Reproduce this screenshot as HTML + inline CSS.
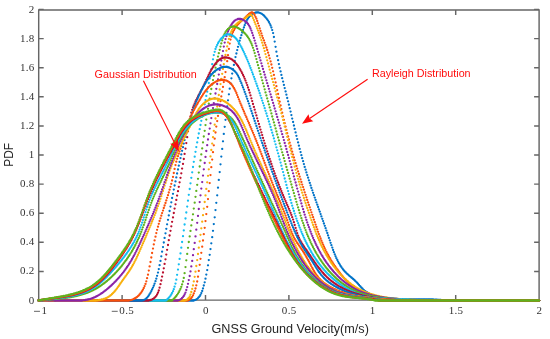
<!DOCTYPE html><html><head><meta charset="utf-8"><style>html,body{margin:0;padding:0;background:#fff;}body{width:550px;height:339px;overflow:hidden;position:relative;}svg{position:absolute;left:0;top:0;filter:blur(0.3px);}.t{font-family:"Liberation Serif",serif;font-size:11px;fill:#333;letter-spacing:0.3px;}.m{font-family:"DejaVu Serif",serif;font-size:9.5px;letter-spacing:0.6px;}.s{font-family:"Liberation Sans",Arial,sans-serif;fill:#262626;}.r{font-family:"Liberation Sans",Arial,sans-serif;fill:#ff0d0d;font-size:10.75px;}</style></head><body><svg width="550" height="339" viewBox="0 0 550 339"><path d="M38.7 10.0H539.1V300.1H38.7ZM38.7 300.5h5M539.1 300.5h-5M38.7 271.4h5M539.1 271.4h-5M38.7 242.3h5M539.1 242.3h-5M38.7 213.2h5M539.1 213.2h-5M38.7 184.1h5M539.1 184.1h-5M38.7 155.0h5M539.1 155.0h-5M38.7 125.9h5M539.1 125.9h-5M38.7 96.8h5M539.1 96.8h-5M38.7 67.7h5M539.1 67.7h-5M38.7 38.6h5M539.1 38.6h-5M38.7 9.5h5M539.1 9.5h-5M38.7 300.1v-5M38.7 10.0v5M122.1 300.1v-5M122.1 10.0v5M205.5 300.1v-5M205.5 10.0v5M288.9 300.1v-5M288.9 10.0v5M372.3 300.1v-5M372.3 10.0v5M455.7 300.1v-5M455.7 10.0v5M539.1 300.1v-5M539.1 10.0v5" fill="none" stroke="#666" stroke-width="1.45"/><g fill="none" stroke-linecap="round" stroke-width="2.30"><path stroke="#0073C8" d="M38.7 300.5H193.8M194.7 300.2h0M195.5 299.9h0M196.3 299.4h0M197.2 298.8h0M198.0 298.1h0M198.8 297.2h0M199.7 296.2h0M200.5 294.8h0M201.3 293.1h0M202.2 291.0h0M203.0 288.4h0M203.8 285.5h0M204.7 282.3h0M205.5 278.7h0M206.3 274.6h0M207.2 270.1h0M208.0 265.3h0M208.8 260.1h0M209.7 254.8h0M210.5 249.1h0M211.3 243.3h0M212.2 237.2h0M213.0 230.8h0M213.8 224.1h0M214.7 217.3h0M215.5 210.1h0M216.3 202.8h0M217.2 195.3h0M218.0 187.7h0M218.8 179.9h0M219.7 172.1h0M220.5 164.3h0M221.3 156.6h0M222.2 148.9h0M223.0 141.3h0M223.8 133.9h0M224.7 126.8h0M225.5 119.8h0M226.4 113.0h0M227.2 106.5h0M228.0 100.3h0M228.9 94.3h0M229.7 88.7h0M230.5 83.4h0M231.4 78.3h0M232.2 73.6h0M233.0 69.1h0M233.9 64.9h0M234.7 60.9h0M235.5 57.1h0M236.4 53.5h0M237.2 50.1h0M238.0 46.8h0M238.9 43.7h0M239.7 40.7h0M240.5 37.9h0M241.4 35.2h0M242.2 32.5h0M243.0 30.0h0M243.9 27.5h0M244.7 25.2h0M245.5 23.1h0M246.4 21.3h0M247.2 19.7h0M248.0 18.4h0M248.9 17.2h0M249.7 16.2h0M250.5 15.4h0M251.4 14.7h0M252.2 14.1h0M253.0 13.6h0M253.9 13.2h0M254.7 12.9h0M255.5 12.7h0M256.4 12.5h0M257.2 12.4h0M258.0 12.5h0M258.9 12.6h0M259.7 12.8h0M260.5 13.2h0M261.4 13.6h0M262.2 14.1h0M263.0 14.8h0M263.9 15.5h0M264.7 16.4h0M265.5 17.3h0M266.4 18.3h0M267.2 19.4h0M268.1 20.6h0M268.9 22.0h0M269.7 23.6h0M270.6 25.4h0M271.4 27.5h0M272.2 30.1h0M273.1 33.1h0M273.9 37.0h0M274.7 41.6h0M275.6 46.8h0M276.4 51.7h0M277.2 56.1h0M278.1 60.2h0M278.9 64.1h0M279.7 67.8h0M280.6 71.4h0M281.4 74.9h0M282.2 78.2h0M283.1 81.6h0M283.9 84.9h0M284.7 88.1h0M285.6 91.4h0M286.4 94.7h0M287.2 98.0h0M288.1 101.3h0M288.9 104.7h0M289.7 108.2h0M290.6 111.6h0M291.4 115.1h0M292.2 118.6h0M293.1 122.0h0M293.9 125.5h0M294.7 128.9h0M295.6 132.4h0M296.4 135.8h0M297.2 139.1h0M298.1 142.4h0M298.9 145.7h0M299.7 148.9h0M300.6 152.1h0M301.4 155.2h0M302.2 158.2h0M303.1 161.2h0M303.9 164.1h0M304.7 166.9h0M305.6 169.7h0M306.4 172.4h0M307.2 175.1h0M308.1 177.7h0M308.9 180.3h0M309.8 182.9h0M310.6 185.4h0M311.4 187.9h0M312.3 190.3h0M313.1 192.8h0M313.9 195.2h0M314.8 197.6h0M315.6 199.9h0M316.4 202.3h0M317.3 204.7h0M318.1 207.0h0M318.9 209.4h0M319.8 211.7h0M320.6 214.1h0M321.4 216.4h0M322.3 218.8h0M323.1 221.1h0M323.9 223.5h0M324.8 225.8h0M325.6 228.2h0M326.4 230.6h0M327.3 233.0h0M328.1 235.4h0M328.9 237.9h0M329.8 240.3h0M330.6 242.8h0M331.4 245.2h0M332.3 247.6h0M333.1 250.0h0M333.9 252.2h0M334.8 254.3h0M335.6 256.3h0M336.4 258.2h0M337.3 259.9h0M338.1 261.6h0M338.9 263.1h0M339.8 264.5h0M340.6 265.9h0M341.4 267.1h0M342.3 268.3h0M343.1 269.4h0M343.9 270.4h0M344.8 271.4h0M345.6 272.2h0M346.4 273.1h0M347.3 273.9h0M348.1 274.6h0M348.9 275.4h0M349.8 276.1h0M350.6 276.8h0M351.4 277.5h0M352.3 278.2h0M353.1 279.0h0M354.0 279.7h0M354.8 280.5h0M355.6 281.3h0M356.5 282.1h0M357.3 283.0h0M358.1 283.9h0M359.0 284.9h0M359.8 285.8h0M360.6 286.7h0M361.5 287.7h0M362.3 288.5h0M363.1 289.3h0M364.0 290.1h0M364.8 290.8h0M365.6 291.4h0M366.5 292.0h0M367.3 292.5h0M368.1 293.0h0M369.0 293.5h0M369.8 293.9h0M370.6 294.2h0M371.5 294.6h0M372.3 294.9h0M373.1 295.2h0M374.0 295.5h0M374.8 295.7h0M375.6 296.0h0M376.5 296.2h0M377.3 296.4h0M378.1 296.6h0M379.0 296.8h0M379.8 297.0h0M380.6 297.1h0M381.5 297.3h0M382.3 297.4h0M383.1 297.6h0M384.0 297.7h0M384.8 297.8h0M385.6 298.0h0M386.5 298.1h0M387.3 298.2h0M388.1 298.3h0M389.0 298.4h0M389.8 298.5h0M390.6 298.5h0M391.5 298.6h0M392.3 298.7h0M393.1 298.8h0M394.0 298.8h0M394.8 298.9h0M395.7 298.9h0M396.5 299.0h0M397.3 299.0h0M398.2 299.1h0M399.0 299.1h0M399.8 299.1h0M400.7 299.2h0M401.5 299.2h0M402.3 299.2h0M403.2 299.2h0M404.0 299.2h0M404.8 299.3h0M405.7 299.3h0M406.5 299.3h0M407.3 299.3h0M408.2 299.3h0M409.0 299.3h0M409.8 299.3h0M410.7 299.3h0M411.5 299.3h0M412.3 299.3h0M413.2 299.3h0M414.0 299.3h0M414.8 299.3h0M415.7 299.3h0M416.5 299.3h0M417.3 299.3h0M418.2 299.3h0M419.0 299.3h0M419.8 299.3h0M420.7 299.3h0M421.5 299.3h0M422.3 299.3h0M423.2 299.3h0M424.0 299.3h0M424.8 299.3h0M425.7 299.3h0M426.5 299.4h0M427.3 299.4h0M428.2 299.4h0M429.0 299.4h0M429.8 299.4h0M430.7 299.4h0M431.5 299.5h0M432.3 299.5h0M433.2 299.5h0M434.0 299.6h0M434.8 299.6h0M435.7 299.7h0M436.5 299.7h0M437.4 299.8h0M438.2 299.8h0M439.0 299.9h0M439.9 300.0h0M440.7 300.0h0M441.5 300.1h0M442.4 300.2h0M443.2 300.3h0M444.0 300.5H539.1"/><path stroke="#FA500C" d="M38.7 300.5H188.0M188.8 300.1h0M189.7 299.5h0M190.5 298.8h0M191.3 298.0h0M192.2 296.8h0M193.0 295.3h0M193.8 293.4h0M194.7 291.1h0M195.5 288.5h0M196.3 285.3h0M197.2 281.5h0M198.0 276.7h0M198.8 270.9h0M199.7 264.8h0M200.5 258.8h0M201.3 252.8h0M202.2 246.7h0M203.0 240.5h0M203.8 234.2h0M204.7 227.8h0M205.5 221.1h0M206.3 214.1h0M207.2 206.8h0M208.0 199.1h0M208.8 191.2h0M209.7 183.1h0M210.5 175.1h0M211.3 167.2h0M212.2 159.6h0M213.0 152.2h0M213.8 145.3h0M214.7 138.7h0M215.5 132.5h0M216.3 126.6h0M217.2 121.1h0M218.0 115.9h0M218.8 110.9h0M219.7 106.0h0M220.5 101.2h0M221.3 96.4h0M222.2 91.7h0M223.0 86.9h0M223.8 82.1h0M224.7 77.2h0M225.5 72.1h0M226.4 66.8h0M227.2 61.2h0M228.0 55.2h0M228.9 48.9h0M229.7 43.6h0M230.5 39.6h0M231.4 36.5h0M232.2 34.1h0M233.0 32.0h0M233.9 30.3h0M234.7 28.8h0M235.5 27.5h0M236.4 26.3h0M237.2 25.3h0M238.0 24.3h0M238.9 23.4h0M239.7 22.6h0M240.5 21.8h0M241.4 21.1h0M242.2 20.3h0M243.0 19.6h0M243.9 18.9h0M244.7 18.1h0M245.5 17.3h0M246.4 16.5h0M247.2 15.6h0M248.0 14.8h0M248.9 14.0h0M249.7 13.3h0M250.5 12.8h0M251.4 12.5h0M252.2 12.5h0M253.0 12.8h0M253.9 13.6h0M254.7 15.1h0M255.5 16.8h0M256.4 18.7h0M257.2 20.9h0M258.0 23.3h0M258.9 25.8h0M259.7 28.4h0M260.5 31.0h0M261.4 33.4h0M262.2 35.8h0M263.0 38.1h0M263.9 40.4h0M264.7 42.8h0M265.5 45.1h0M266.4 47.5h0M267.2 50.0h0M268.1 52.7h0M268.9 55.4h0M269.7 58.3h0M270.6 61.4h0M271.4 64.5h0M272.2 67.8h0M273.1 71.3h0M273.9 74.9h0M274.7 78.6h0M275.6 82.4h0M276.4 86.2h0M277.2 90.1h0M278.1 94.0h0M278.9 97.9h0M279.7 101.7h0M280.6 105.4h0M281.4 109.1h0M282.2 112.7h0M283.1 116.3h0M283.9 119.8h0M284.7 123.2h0M285.6 126.6h0M286.4 129.9h0M287.2 133.2h0M288.1 136.4h0M288.9 139.5h0M289.7 142.7h0M290.6 145.7h0M291.4 148.7h0M292.2 151.7h0M293.1 154.6h0M293.9 157.5h0M294.7 160.3h0M295.6 163.1h0M296.4 165.9h0M297.2 168.6h0M298.1 171.3h0M298.9 174.0h0M299.7 176.7h0M300.6 179.3h0M301.4 182.0h0M302.2 184.6h0M303.1 187.1h0M303.9 189.7h0M304.7 192.3h0M305.6 194.8h0M306.4 197.3h0M307.2 199.9h0M308.1 202.4h0M308.9 204.9h0M309.8 207.3h0M310.6 209.8h0M311.4 212.3h0M312.3 214.8h0M313.1 217.2h0M313.9 219.7h0M314.8 222.2h0M315.6 224.6h0M316.4 227.0h0M317.3 229.4h0M318.1 231.8h0M318.9 234.1h0M319.8 236.3h0M320.6 238.5h0M321.4 240.6h0M322.3 242.6h0M323.1 244.6h0M323.9 246.5h0M324.8 248.3h0M325.6 250.1h0M326.4 251.8h0M327.3 253.4h0M328.1 255.0h0M328.9 256.5h0M329.8 258.0h0M330.6 259.4h0M331.4 260.8h0M332.3 262.1h0M333.1 263.4h0M333.9 264.6h0M334.8 265.9h0M335.6 267.1h0M336.4 268.3h0M337.3 269.4h0M338.1 270.5h0M338.9 271.7h0M339.8 272.7h0M340.6 273.8h0M341.4 274.9h0M342.3 275.9h0M343.1 276.9h0M343.9 277.8h0M344.8 278.8h0M345.6 279.7h0M346.4 280.6h0M347.3 281.5h0M348.1 282.3h0M348.9 283.1h0M349.8 283.9h0M350.6 284.7h0M351.4 285.5h0M352.3 286.2h0M353.1 286.9h0M354.0 287.6h0M354.8 288.2h0M355.6 288.9h0M356.5 289.5h0M357.3 290.1h0M358.1 290.6h0M359.0 291.2h0M359.8 291.7h0M360.6 292.2h0M361.5 292.7h0M362.3 293.1h0M363.1 293.5h0M364.0 294.0h0M364.8 294.3h0M365.6 294.7h0M366.5 295.0h0M367.3 295.4h0M368.1 295.7h0M369.0 296.0h0M369.8 296.2h0M370.6 296.5h0M371.5 296.7h0M372.3 296.9h0M373.1 297.1h0M374.0 297.3h0M374.8 297.5h0M375.6 297.7h0M376.5 297.8h0M377.3 298.0h0M378.1 298.1h0M379.0 298.2h0M379.8 298.3h0M380.6 298.4h0M381.5 298.5h0M382.3 298.6h0M383.1 298.7h0M384.0 298.8h0M384.8 298.9h0M385.6 298.9h0M386.5 299.0h0M387.3 299.0h0M388.1 299.1h0M389.0 299.1h0M389.8 299.1h0M390.6 299.2h0M391.5 299.2h0M392.3 299.2h0M393.1 299.2h0M394.0 299.3h0M394.8 299.3h0M395.7 299.3h0M396.5 299.3h0M397.3 299.3h0M398.2 299.3h0M399.0 299.3h0M399.8 299.4h0M400.7 299.4h0M401.5 299.4h0M402.3 299.4h0M403.2 299.4h0M404.0 299.4h0M404.8 299.4h0M405.7 299.5h0M406.5 299.5h0M407.3 299.5h0M408.2 299.5h0M409.0 299.6h0M409.8 299.6h0M410.7 299.6h0M411.5 299.7h0M412.3 299.7h0M413.2 299.8h0M414.0 299.8h0M414.8 299.9h0M415.7 300.0h0M416.5 300.1h0M417.3 300.1h0M418.2 300.2h0M419.0 300.5H539.1"/><path stroke="#F9B00C" d="M38.7 300.5H184.6M185.5 300.3h0M186.3 299.9h0M187.2 299.4h0M188.0 298.7h0M188.8 297.8h0M189.7 296.5h0M190.5 294.6h0M191.3 292.0h0M192.2 288.9h0M193.0 285.4h0M193.8 281.4h0M194.7 276.8h0M195.5 271.7h0M196.3 266.0h0M197.2 260.1h0M198.0 254.0h0M198.8 247.7h0M199.7 241.3h0M200.5 234.8h0M201.3 228.3h0M202.2 221.7h0M203.0 215.2h0M203.8 208.6h0M204.7 202.0h0M205.5 195.4h0M206.3 188.9h0M207.2 182.3h0M208.0 175.8h0M208.8 169.3h0M209.7 162.8h0M210.5 156.4h0M211.3 150.0h0M212.2 143.6h0M213.0 137.2h0M213.8 130.9h0M214.7 124.7h0M215.5 118.5h0M216.3 112.4h0M217.2 106.5h0M218.0 100.7h0M218.8 95.0h0M219.7 89.5h0M220.5 84.1h0M221.3 78.9h0M222.2 73.8h0M223.0 68.9h0M223.8 64.2h0M224.7 59.5h0M225.5 55.0h0M226.4 50.7h0M227.2 46.4h0M228.0 42.4h0M228.9 38.9h0M229.7 35.9h0M230.5 33.5h0M231.4 31.5h0M232.2 29.8h0M233.0 28.3h0M233.9 27.1h0M234.7 25.9h0M235.5 25.0h0M236.4 24.1h0M237.2 23.4h0M238.0 22.7h0M238.9 22.1h0M239.7 21.5h0M240.5 21.0h0M241.4 20.6h0M242.2 20.2h0M243.0 19.7h0M243.9 19.2h0M244.7 18.7h0M245.5 18.0h0M246.4 17.3h0M247.2 16.5h0M248.0 15.8h0M248.9 15.3h0M249.7 14.9h0M250.5 14.8h0M251.4 15.1h0M252.2 16.2h0M253.0 18.1h0M253.9 20.1h0M254.7 22.2h0M255.5 24.2h0M256.4 26.3h0M257.2 28.4h0M258.0 30.6h0M258.9 32.9h0M259.7 35.2h0M260.5 37.6h0M261.4 40.1h0M262.2 42.7h0M263.0 45.4h0M263.9 48.2h0M264.7 51.1h0M265.5 54.1h0M266.4 57.2h0M267.2 60.3h0M268.1 63.4h0M268.9 66.6h0M269.7 69.7h0M270.6 72.8h0M271.4 75.9h0M272.2 79.0h0M273.1 82.1h0M273.9 85.1h0M274.7 88.2h0M275.6 91.3h0M276.4 94.4h0M277.2 97.4h0M278.1 100.6h0M278.9 103.7h0M279.7 106.9h0M280.6 110.1h0M281.4 113.3h0M282.2 116.6h0M283.1 119.9h0M283.9 123.2h0M284.7 126.6h0M285.6 130.0h0M286.4 133.4h0M287.2 136.8h0M288.1 140.2h0M288.9 143.6h0M289.7 147.0h0M290.6 150.4h0M291.4 153.7h0M292.2 157.0h0M293.1 160.3h0M293.9 163.5h0M294.7 166.7h0M295.6 169.8h0M296.4 172.8h0M297.2 175.8h0M298.1 178.8h0M298.9 181.7h0M299.7 184.5h0M300.6 187.3h0M301.4 190.0h0M302.2 192.7h0M303.1 195.3h0M303.9 197.9h0M304.7 200.5h0M305.6 203.0h0M306.4 205.5h0M307.2 208.0h0M308.1 210.4h0M308.9 212.9h0M309.8 215.3h0M310.6 217.7h0M311.4 220.1h0M312.3 222.5h0M313.1 224.9h0M313.9 227.2h0M314.8 229.5h0M315.6 231.7h0M316.4 233.9h0M317.3 236.0h0M318.1 238.0h0M318.9 240.0h0M319.8 241.9h0M320.6 243.7h0M321.4 245.5h0M322.3 247.2h0M323.1 248.9h0M323.9 250.5h0M324.8 252.1h0M325.6 253.6h0M326.4 255.0h0M327.3 256.5h0M328.1 257.8h0M328.9 259.2h0M329.8 260.5h0M330.6 261.8h0M331.4 263.0h0M332.3 264.2h0M333.1 265.4h0M333.9 266.5h0M334.8 267.6h0M335.6 268.7h0M336.4 269.7h0M337.3 270.8h0M338.1 271.8h0M338.9 272.7h0M339.8 273.7h0M340.6 274.6h0M341.4 275.4h0M342.3 276.3h0M343.1 277.1h0M343.9 278.0h0M344.8 278.7h0M345.6 279.5h0M346.4 280.3h0M347.3 281.0h0M348.1 281.7h0M348.9 282.4h0M349.8 283.0h0M350.6 283.7h0M351.4 284.3h0M352.3 284.9h0M353.1 285.5h0M354.0 286.0h0M354.8 286.6h0M355.6 287.1h0M356.5 287.6h0M357.3 288.1h0M358.1 288.6h0M359.0 289.1h0M359.8 289.5h0M360.6 289.9h0M361.5 290.3h0M362.3 290.7h0M363.1 291.1h0M364.0 291.5h0M364.8 291.8h0M365.6 292.2h0M366.5 292.5h0M367.3 292.8h0M368.1 293.1h0M369.0 293.4h0M369.8 293.7h0M370.6 294.0h0M371.5 294.2h0M372.3 294.5h0M373.1 294.7h0M374.0 295.0h0M374.8 295.2h0M375.6 295.4h0M376.5 295.6h0M377.3 295.8h0M378.1 296.0h0M379.0 296.2h0M379.8 296.4h0M380.6 296.6h0M381.5 296.7h0M382.3 296.9h0M383.1 297.1h0M384.0 297.2h0M384.8 297.3h0M385.6 297.5h0M386.5 297.6h0M387.3 297.7h0M388.1 297.9h0M389.0 298.0h0M389.8 298.1h0M390.6 298.2h0M391.5 298.3h0M392.3 298.4h0M393.1 298.5h0M394.0 298.6h0M394.8 298.7h0M395.7 298.8h0M396.5 298.9h0M397.3 299.0h0M398.2 299.0h0M399.0 299.1h0M399.8 299.2h0M400.7 299.3h0M401.5 299.3h0M402.3 299.4h0M403.2 299.5h0M404.0 299.5h0M404.8 299.6h0M405.7 299.6h0M406.5 299.7h0M407.3 299.7h0M408.2 299.8h0M409.0 299.8h0M409.8 299.9h0M410.7 299.9h0M411.5 300.0h0M412.3 300.0h0M413.2 300.1h0M414.0 300.1h0M414.8 300.2h0M415.7 300.2h0M416.5 300.3h0M417.3 300.3h0M418.2 300.5H539.1"/><path stroke="#8A24A8" d="M38.7 300.5H178.0M178.8 300.2h0M179.6 299.8h0M180.5 299.4h0M181.3 298.8h0M182.1 298.0h0M183.0 297.1h0M183.8 296.0h0M184.6 294.5h0M185.5 292.6h0M186.3 290.0h0M187.2 287.1h0M188.0 283.8h0M188.8 280.1h0M189.7 276.0h0M190.5 271.4h0M191.3 266.4h0M192.2 260.9h0M193.0 255.2h0M193.8 249.2h0M194.7 242.9h0M195.5 236.4h0M196.3 229.7h0M197.2 222.8h0M198.0 215.9h0M198.8 209.0h0M199.7 202.1h0M200.5 195.3h0M201.3 188.6h0M202.2 182.1h0M203.0 175.6h0M203.8 169.3h0M204.7 163.0h0M205.5 156.9h0M206.3 151.0h0M207.2 145.2h0M208.0 139.5h0M208.8 134.0h0M209.7 128.6h0M210.5 123.3h0M211.3 118.1h0M212.2 113.1h0M213.0 108.1h0M213.8 103.2h0M214.7 98.3h0M215.5 93.5h0M216.3 88.8h0M217.2 84.0h0M218.0 79.3h0M218.8 74.6h0M219.7 69.9h0M220.5 65.3h0M221.3 60.6h0M222.2 55.9h0M223.0 51.1h0M223.8 46.6h0M224.7 42.6h0M225.5 39.1h0M226.4 36.2h0M227.2 33.7h0M228.0 31.5h0M228.9 29.5h0M229.7 27.7h0M230.5 26.1h0M231.4 24.7h0M232.2 23.5h0M233.0 22.4h0M233.9 21.5h0M234.7 20.7h0M235.5 20.1h0M236.4 19.6h0M237.2 19.3h0M238.0 19.0h0M238.9 18.9h0M239.7 18.9h0M240.5 19.0h0M241.4 19.2h0M242.2 19.5h0M243.0 19.8h0M243.9 20.3h0M244.7 20.8h0M245.5 21.4h0M246.4 22.1h0M247.2 23.0h0M248.0 24.0h0M248.9 25.3h0M249.7 26.7h0M250.5 28.5h0M251.4 30.6h0M252.2 32.9h0M253.0 35.4h0M253.9 37.9h0M254.7 40.6h0M255.5 43.3h0M256.4 46.0h0M257.2 48.9h0M258.0 51.8h0M258.9 54.7h0M259.7 57.6h0M260.5 60.4h0M261.4 63.3h0M262.2 66.2h0M263.0 69.0h0M263.9 71.9h0M264.7 74.7h0M265.5 77.5h0M266.4 80.3h0M267.2 83.2h0M268.1 86.0h0M268.9 88.8h0M269.7 91.6h0M270.6 94.4h0M271.4 97.2h0M272.2 100.0h0M273.1 102.9h0M273.9 105.7h0M274.7 108.5h0M275.6 111.3h0M276.4 114.2h0M277.2 117.0h0M278.1 119.8h0M278.9 122.7h0M279.7 125.6h0M280.6 128.4h0M281.4 131.3h0M282.2 134.2h0M283.1 137.1h0M283.9 140.1h0M284.7 143.0h0M285.6 146.0h0M286.4 149.0h0M287.2 152.0h0M288.1 155.0h0M288.9 158.0h0M289.7 161.1h0M290.6 164.1h0M291.4 167.2h0M292.2 170.3h0M293.1 173.3h0M293.9 176.4h0M294.7 179.5h0M295.6 182.5h0M296.4 185.5h0M297.2 188.6h0M298.1 191.6h0M298.9 194.6h0M299.7 197.6h0M300.6 200.5h0M301.4 203.4h0M302.2 206.3h0M303.1 209.2h0M303.9 212.0h0M304.7 214.7h0M305.6 217.3h0M306.4 219.9h0M307.2 222.4h0M308.1 224.9h0M308.9 227.2h0M309.8 229.5h0M310.6 231.7h0M311.4 233.8h0M312.3 235.9h0M313.1 237.9h0M313.9 239.8h0M314.8 241.7h0M315.6 243.5h0M316.4 245.2h0M317.3 246.9h0M318.1 248.5h0M318.9 250.1h0M319.8 251.7h0M320.6 253.1h0M321.4 254.6h0M322.3 256.0h0M323.1 257.3h0M323.9 258.7h0M324.8 259.9h0M325.6 261.2h0M326.4 262.4h0M327.3 263.6h0M328.1 264.7h0M328.9 265.8h0M329.8 266.9h0M330.6 268.0h0M331.4 269.0h0M332.3 270.0h0M333.1 271.0h0M333.9 271.9h0M334.8 272.8h0M335.6 273.7h0M336.4 274.6h0M337.3 275.5h0M338.1 276.3h0M338.9 277.1h0M339.8 277.9h0M340.6 278.7h0M341.4 279.4h0M342.3 280.1h0M343.1 280.8h0M343.9 281.5h0M344.8 282.2h0M345.6 282.8h0M346.4 283.5h0M347.3 284.1h0M348.1 284.7h0M348.9 285.2h0M349.8 285.8h0M350.6 286.3h0M351.4 286.8h0M352.3 287.4h0M353.1 287.8h0M354.0 288.3h0M354.8 288.8h0M355.6 289.2h0M356.5 289.7h0M357.3 290.1h0M358.1 290.5h0M359.0 290.8h0M359.8 291.2h0M360.6 291.6h0M361.5 291.9h0M362.3 292.2h0M363.1 292.6h0M364.0 292.9h0M364.8 293.2h0M365.6 293.5h0M366.5 293.7h0M367.3 294.0h0M368.1 294.2h0M369.0 294.5h0M369.8 294.7h0M370.6 295.0h0M371.5 295.2h0M372.3 295.4h0M373.1 295.6h0M374.0 295.8h0M374.8 296.0h0M375.6 296.2h0M376.5 296.3h0M377.3 296.5h0M378.1 296.7h0M379.0 296.8h0M379.8 297.0h0M380.6 297.1h0M381.5 297.3h0M382.3 297.4h0M383.1 297.5h0M384.0 297.7h0M384.8 297.8h0M385.6 297.9h0M386.5 298.0h0M387.3 298.1h0M388.1 298.2h0M389.0 298.3h0M389.8 298.4h0M390.6 298.5h0M391.5 298.6h0M392.3 298.7h0M393.1 298.7h0M394.0 298.8h0M394.8 298.9h0M395.7 299.0h0M396.5 299.0h0M397.3 299.1h0M398.2 299.2h0M399.0 299.2h0M399.8 299.3h0M400.7 299.3h0M401.5 299.4h0M402.3 299.5h0M403.2 299.5h0M404.0 299.6h0M404.8 299.6h0M405.7 299.7h0M406.5 299.7h0M407.3 299.8h0M408.2 299.8h0M409.0 299.9h0M409.8 299.9h0M410.7 299.9h0M411.5 300.0h0M412.3 300.0h0M413.2 300.1h0M414.0 300.1h0M414.8 300.2h0M415.7 300.2h0M416.5 300.3h0M417.3 300.3h0M418.2 300.5H539.1"/><path stroke="#5EB21E" d="M38.7 300.5H172.1M173.0 299.6h0M173.8 298.8h0M174.6 297.9h0M175.5 297.0h0M176.3 296.0h0M177.1 294.8h0M178.0 293.6h0M178.8 292.2h0M179.6 290.6h0M180.5 288.8h0M181.3 286.8h0M182.1 284.4h0M183.0 281.5h0M183.8 277.9h0M184.6 273.2h0M185.5 267.1h0M186.3 260.3h0M187.2 253.9h0M188.0 247.8h0M188.8 242.0h0M189.7 236.4h0M190.5 230.9h0M191.3 225.4h0M192.2 219.9h0M193.0 214.3h0M193.8 208.6h0M194.7 202.7h0M195.5 196.8h0M196.3 190.9h0M197.2 184.8h0M198.0 178.8h0M198.8 172.6h0M199.7 166.5h0M200.5 160.4h0M201.3 154.4h0M202.2 148.4h0M203.0 142.4h0M203.8 136.5h0M204.7 130.8h0M205.5 125.1h0M206.3 119.6h0M207.2 114.1h0M208.0 108.8h0M208.8 103.7h0M209.7 98.6h0M210.5 93.8h0M211.3 89.0h0M212.2 84.5h0M213.0 80.1h0M213.8 75.8h0M214.7 71.7h0M215.5 67.7h0M216.3 63.9h0M217.2 60.2h0M218.0 56.6h0M218.8 53.2h0M219.7 49.8h0M220.5 46.6h0M221.3 43.4h0M222.2 40.4h0M223.0 37.7h0M223.8 35.4h0M224.7 33.6h0M225.5 32.1h0M226.4 30.8h0M227.2 29.8h0M228.0 29.0h0M228.9 28.3h0M229.7 27.7h0M230.5 27.2h0M231.4 26.9h0M232.2 26.6h0M233.0 26.5h0M233.9 26.5h0M234.7 26.6h0M235.5 26.9h0M236.4 27.2h0M237.2 27.6h0M238.0 28.0h0M238.9 28.5h0M239.7 29.0h0M240.5 29.6h0M241.4 30.2h0M242.2 30.9h0M243.0 31.6h0M243.9 32.4h0M244.7 33.2h0M245.5 34.1h0M246.4 35.1h0M247.2 36.2h0M248.0 37.3h0M248.9 38.6h0M249.7 40.1h0M250.5 41.7h0M251.4 43.5h0M252.2 45.5h0M253.0 47.8h0M253.9 50.4h0M254.7 53.1h0M255.5 56.1h0M256.4 59.1h0M257.2 62.2h0M258.0 65.2h0M258.9 68.2h0M259.7 71.2h0M260.5 74.2h0M261.4 77.3h0M262.2 80.3h0M263.0 83.3h0M263.9 86.3h0M264.7 89.3h0M265.5 92.4h0M266.4 95.4h0M267.2 98.4h0M268.1 101.4h0M268.9 104.4h0M269.7 107.4h0M270.6 110.4h0M271.4 113.4h0M272.2 116.5h0M273.1 119.5h0M273.9 122.4h0M274.7 125.4h0M275.6 128.4h0M276.4 131.4h0M277.2 134.4h0M278.1 137.4h0M278.9 140.4h0M279.7 143.4h0M280.6 146.3h0M281.4 149.3h0M282.2 152.3h0M283.1 155.2h0M283.9 158.2h0M284.7 161.1h0M285.6 164.1h0M286.4 167.0h0M287.2 170.0h0M288.1 172.9h0M288.9 175.8h0M289.7 178.7h0M290.6 181.6h0M291.4 184.5h0M292.2 187.4h0M293.1 190.3h0M293.9 193.2h0M294.7 196.1h0M295.6 198.9h0M296.4 201.8h0M297.2 204.6h0M298.1 207.4h0M298.9 210.2h0M299.7 212.9h0M300.6 215.6h0M301.4 218.2h0M302.2 220.7h0M303.1 223.1h0M303.9 225.5h0M304.7 227.8h0M305.6 230.1h0M306.4 232.3h0M307.2 234.4h0M308.1 236.4h0M308.9 238.3h0M309.8 240.2h0M310.6 242.1h0M311.4 243.8h0M312.3 245.6h0M313.1 247.2h0M313.9 248.8h0M314.8 250.4h0M315.6 251.9h0M316.4 253.3h0M317.3 254.8h0M318.1 256.1h0M318.9 257.5h0M319.8 258.8h0M320.6 260.0h0M321.4 261.2h0M322.3 262.4h0M323.1 263.6h0M323.9 264.7h0M324.8 265.8h0M325.6 266.9h0M326.4 267.9h0M327.3 268.9h0M328.1 269.9h0M328.9 270.9h0M329.8 271.8h0M330.6 272.7h0M331.4 273.6h0M332.3 274.5h0M333.1 275.3h0M333.9 276.1h0M334.8 276.9h0M335.6 277.7h0M336.4 278.5h0M337.3 279.2h0M338.1 279.9h0M338.9 280.6h0M339.8 281.3h0M340.6 282.0h0M341.4 282.6h0M342.3 283.3h0M343.1 283.9h0M343.9 284.5h0M344.8 285.0h0M345.6 285.6h0M346.4 286.1h0M347.3 286.7h0M348.1 287.2h0M348.9 287.7h0M349.8 288.2h0M350.6 288.6h0M351.4 289.1h0M352.3 289.5h0M353.1 289.9h0M354.0 290.3h0M354.8 290.7h0M355.6 291.1h0M356.5 291.4h0M357.3 291.8h0M358.1 292.1h0M359.0 292.5h0M359.8 292.8h0M360.6 293.1h0M361.5 293.4h0M362.3 293.6h0M363.1 293.9h0M364.0 294.2h0M364.8 294.4h0M365.6 294.7h0M366.5 294.9h0M367.3 295.1h0M368.1 295.3h0M369.0 295.5h0M369.8 295.7h0M370.6 295.9h0M371.5 296.1h0M372.3 296.3h0M373.1 296.5h0M374.0 296.6h0M374.8 296.8h0M375.6 296.9h0M376.5 297.1h0M377.3 297.2h0M378.1 297.4h0M379.0 297.5h0M379.8 297.6h0M380.6 297.7h0M381.5 297.8h0M382.3 297.9h0M383.1 298.1h0M384.0 298.2h0M384.8 298.3h0M385.6 298.3h0M386.5 298.4h0M387.3 298.5h0M388.1 298.6h0M389.0 298.7h0M389.8 298.8h0M390.6 298.8h0M391.5 298.9h0M392.3 299.0h0M393.1 299.0h0M394.0 299.1h0M394.8 299.1h0M395.7 299.2h0M396.5 299.3h0M397.3 299.3h0M398.2 299.4h0M399.0 299.4h0M399.8 299.5h0M400.7 299.5h0M401.5 299.5h0M402.3 299.6h0M403.2 299.6h0M404.0 299.7h0M404.8 299.7h0M405.7 299.8h0M406.5 299.8h0M407.3 299.8h0M408.2 299.9h0M409.0 299.9h0M409.8 300.0h0M410.7 300.0h0M411.5 300.0h0M412.3 300.1h0M413.2 300.1h0M414.0 300.2h0M414.8 300.2h0M415.7 300.2h0M416.5 300.3h0M417.3 300.3h0M418.2 300.5H539.1"/><path stroke="#14BEF2" d="M38.7 300.5H165.5M166.3 300.3h0M167.1 299.5h0M168.0 298.7h0M168.8 297.8h0M169.6 296.8h0M170.5 295.7h0M171.3 294.4h0M172.1 292.9h0M173.0 291.2h0M173.8 289.2h0M174.6 286.7h0M175.5 283.6h0M176.3 279.7h0M177.1 274.8h0M178.0 269.6h0M178.8 264.3h0M179.6 258.9h0M180.5 253.4h0M181.3 247.7h0M182.1 242.0h0M183.0 236.2h0M183.8 230.4h0M184.6 224.5h0M185.5 218.5h0M186.3 212.5h0M187.2 206.6h0M188.0 200.7h0M188.8 194.8h0M189.7 189.0h0M190.5 183.3h0M191.3 177.8h0M192.2 172.3h0M193.0 167.0h0M193.8 161.8h0M194.7 156.7h0M195.5 151.8h0M196.3 147.1h0M197.2 142.4h0M198.0 137.9h0M198.8 133.5h0M199.7 129.2h0M200.5 125.0h0M201.3 120.8h0M202.2 116.7h0M203.0 112.5h0M203.8 108.4h0M204.7 104.3h0M205.5 100.1h0M206.3 95.9h0M207.2 91.7h0M208.0 87.4h0M208.8 83.0h0M209.7 78.5h0M210.5 73.9h0M211.3 69.1h0M212.2 64.2h0M213.0 59.3h0M213.8 55.1h0M214.7 51.8h0M215.5 49.0h0M216.3 46.8h0M217.2 44.9h0M218.0 43.2h0M218.8 41.8h0M219.7 40.6h0M220.5 39.4h0M221.3 38.5h0M222.2 37.6h0M223.0 36.8h0M223.8 36.1h0M224.7 35.4h0M225.5 35.0h0M226.4 34.6h0M227.2 34.4h0M228.0 34.3h0M228.9 34.4h0M229.7 34.5h0M230.5 34.7h0M231.4 35.1h0M232.2 35.5h0M233.0 36.0h0M233.9 36.5h0M234.7 37.2h0M235.5 38.0h0M236.4 39.0h0M237.2 40.1h0M238.0 41.3h0M238.9 42.6h0M239.7 44.1h0M240.5 45.6h0M241.4 47.1h0M242.2 48.7h0M243.0 50.4h0M243.9 52.1h0M244.7 53.9h0M245.5 55.8h0M246.4 57.7h0M247.2 59.6h0M248.0 61.6h0M248.9 63.7h0M249.7 65.8h0M250.5 68.0h0M251.4 70.1h0M252.2 72.3h0M253.0 74.5h0M253.9 76.8h0M254.7 79.0h0M255.5 81.3h0M256.4 83.7h0M257.2 86.0h0M258.0 88.4h0M258.9 90.7h0M259.7 93.2h0M260.5 95.6h0M261.4 98.1h0M262.2 100.6h0M263.0 103.1h0M263.9 105.6h0M264.7 108.2h0M265.5 110.8h0M266.4 113.5h0M267.2 116.1h0M268.1 118.8h0M268.9 121.5h0M269.7 124.3h0M270.6 127.0h0M271.4 129.9h0M272.2 132.7h0M273.1 135.5h0M273.9 138.4h0M274.7 141.3h0M275.6 144.3h0M276.4 147.3h0M277.2 150.3h0M278.1 153.3h0M278.9 156.4h0M279.7 159.5h0M280.6 162.6h0M281.4 165.7h0M282.2 168.9h0M283.1 172.1h0M283.9 175.3h0M284.7 178.5h0M285.6 181.7h0M286.4 184.9h0M287.2 188.0h0M288.1 191.1h0M288.9 194.1h0M289.7 197.1h0M290.6 200.0h0M291.4 202.9h0M292.2 205.7h0M293.1 208.4h0M293.9 211.0h0M294.7 213.6h0M295.6 216.1h0M296.4 218.6h0M297.2 220.9h0M298.1 223.2h0M298.9 225.5h0M299.7 227.6h0M300.6 229.7h0M301.4 231.8h0M302.2 233.8h0M303.1 235.7h0M303.9 237.6h0M304.7 239.4h0M305.6 241.2h0M306.4 242.9h0M307.2 244.5h0M308.1 246.2h0M308.9 247.7h0M309.8 249.2h0M310.6 250.7h0M311.4 252.2h0M312.3 253.6h0M313.1 254.9h0M313.9 256.3h0M314.8 257.5h0M315.6 258.8h0M316.4 260.0h0M317.3 261.2h0M318.1 262.4h0M318.9 263.5h0M319.8 264.6h0M320.6 265.7h0M321.4 266.7h0M322.3 267.7h0M323.1 268.7h0M323.9 269.7h0M324.8 270.6h0M325.6 271.5h0M326.4 272.4h0M327.3 273.3h0M328.1 274.1h0M328.9 274.9h0M329.8 275.7h0M330.6 276.5h0M331.4 277.3h0M332.3 278.0h0M333.1 278.8h0M333.9 279.5h0M334.8 280.2h0M335.6 280.8h0M336.4 281.5h0M337.3 282.1h0M338.1 282.8h0M338.9 283.4h0M339.8 284.0h0M340.6 284.6h0M341.4 285.1h0M342.3 285.7h0M343.1 286.2h0M343.9 286.8h0M344.8 287.3h0M345.6 287.8h0M346.4 288.2h0M347.3 288.7h0M348.1 289.2h0M348.9 289.6h0M349.8 290.1h0M350.6 290.5h0M351.4 290.9h0M352.3 291.3h0M353.1 291.7h0M354.0 292.0h0M354.8 292.4h0M355.6 292.7h0M356.5 293.1h0M357.3 293.4h0M358.1 293.7h0M359.0 294.0h0M359.8 294.3h0M360.6 294.6h0M361.5 294.8h0M362.3 295.1h0M363.1 295.3h0M364.0 295.6h0M364.8 295.8h0M365.6 296.0h0M366.5 296.2h0M367.3 296.4h0M368.1 296.6h0M369.0 296.7h0M369.8 296.9h0M370.6 297.1h0M371.5 297.2h0M372.3 297.3h0M373.1 297.5h0M374.0 297.6h0M374.8 297.7h0M375.6 297.8h0M376.5 297.9h0M377.3 298.0h0M378.1 298.1h0M379.0 298.2h0M379.8 298.3h0M380.6 298.3h0M381.5 298.4h0M382.3 298.5h0M383.1 298.5h0M384.0 298.6h0M384.8 298.6h0M385.6 298.7h0M386.5 298.7h0M387.3 298.8h0M388.1 298.8h0M389.0 298.8h0M389.8 298.9h0M390.6 298.9h0M391.5 298.9h0M392.3 299.0h0M393.1 299.0h0M394.0 299.0h0M394.8 299.0h0M395.7 299.1h0M396.5 299.1h0M397.3 299.1h0M398.2 299.1h0M399.0 299.2h0M399.8 299.2h0M400.7 299.2h0M401.5 299.2h0M402.3 299.3h0M403.2 299.3h0M404.0 299.3h0M404.8 299.3h0M405.7 299.4h0M406.5 299.4h0M407.3 299.4h0M408.2 299.5h0M409.0 299.5h0M409.8 299.6h0M410.7 299.6h0M411.5 299.7h0M412.3 299.7h0M413.2 299.8h0M414.0 299.8h0M414.8 299.9h0M415.7 300.0h0M416.5 300.1h0M417.3 300.2h0M418.2 300.3h0M419.0 300.5H539.1"/><path stroke="#BA0F2E" d="M38.7 300.5H148.8M149.6 300.2h0M150.5 300.0h0M151.3 299.8h0M152.1 299.4h0M153.0 298.9h0M153.8 298.4h0M154.6 297.7h0M155.5 296.8h0M156.3 295.8h0M157.1 294.4h0M158.0 292.7h0M158.8 290.5h0M159.6 287.7h0M160.5 284.2h0M161.3 280.5h0M162.1 276.6h0M163.0 272.5h0M163.8 268.3h0M164.6 263.9h0M165.5 259.3h0M166.3 254.6h0M167.1 249.8h0M168.0 245.0h0M168.8 240.2h0M169.6 235.5h0M170.5 230.8h0M171.3 226.3h0M172.1 221.8h0M173.0 217.4h0M173.8 213.0h0M174.6 208.6h0M175.5 204.3h0M176.3 199.9h0M177.1 195.6h0M178.0 191.2h0M178.8 186.8h0M179.6 182.3h0M180.5 177.8h0M181.3 173.3h0M182.1 168.6h0M183.0 163.9h0M183.8 159.0h0M184.6 153.9h0M185.5 148.6h0M186.3 143.1h0M187.2 137.2h0M188.0 131.3h0M188.8 125.8h0M189.7 120.8h0M190.5 116.4h0M191.3 112.7h0M192.2 109.8h0M193.0 107.4h0M193.8 105.3h0M194.7 103.3h0M195.5 101.5h0M196.3 99.8h0M197.2 98.1h0M198.0 96.5h0M198.8 94.9h0M199.7 93.3h0M200.5 91.7h0M201.3 90.1h0M202.2 88.5h0M203.0 86.9h0M203.8 85.3h0M204.7 83.5h0M205.5 81.8h0M206.3 80.0h0M207.2 78.1h0M208.0 76.3h0M208.8 74.6h0M209.7 72.9h0M210.5 71.3h0M211.3 69.8h0M212.2 68.4h0M213.0 67.1h0M213.8 65.8h0M214.7 64.7h0M215.5 63.6h0M216.3 62.6h0M217.2 61.7h0M218.0 60.9h0M218.8 60.2h0M219.7 59.5h0M220.5 59.0h0M221.3 58.5h0M222.2 58.1h0M223.0 57.8h0M223.8 57.6h0M224.7 57.5h0M225.5 57.5h0M226.4 57.5h0M227.2 57.6h0M228.0 57.8h0M228.9 58.0h0M229.7 58.3h0M230.5 58.7h0M231.4 59.2h0M232.2 59.7h0M233.0 60.4h0M233.9 61.1h0M234.7 61.9h0M235.5 62.8h0M236.4 63.8h0M237.2 64.9h0M238.0 66.0h0M238.9 67.3h0M239.7 68.7h0M240.5 70.1h0M241.4 71.6h0M242.2 73.2h0M243.0 74.9h0M243.9 76.7h0M244.7 78.6h0M245.5 80.6h0M246.4 82.8h0M247.2 85.1h0M248.0 87.5h0M248.9 90.0h0M249.7 92.7h0M250.5 95.4h0M251.4 98.3h0M252.2 101.1h0M253.0 104.0h0M253.9 106.9h0M254.7 109.7h0M255.5 112.6h0M256.4 115.4h0M257.2 118.3h0M258.0 121.1h0M258.9 124.0h0M259.7 126.8h0M260.5 129.6h0M261.4 132.4h0M262.2 135.1h0M263.0 137.9h0M263.9 140.6h0M264.7 143.3h0M265.5 146.0h0M266.4 148.6h0M267.2 151.3h0M268.1 153.9h0M268.9 156.4h0M269.7 159.0h0M270.6 161.5h0M271.4 163.9h0M272.2 166.4h0M273.1 168.8h0M273.9 171.1h0M274.7 173.5h0M275.6 175.8h0M276.4 178.1h0M277.2 180.3h0M278.1 182.5h0M278.9 184.7h0M279.7 186.9h0M280.6 189.0h0M281.4 191.1h0M282.2 193.1h0M283.1 195.2h0M283.9 197.2h0M284.7 199.1h0M285.6 201.1h0M286.4 203.0h0M287.2 204.9h0M288.1 206.8h0M288.9 208.8h0M289.7 210.7h0M290.6 212.8h0M291.4 214.9h0M292.2 217.2h0M293.1 219.6h0M293.9 222.2h0M294.7 225.0h0M295.6 227.9h0M296.4 230.7h0M297.2 233.2h0M298.1 235.6h0M298.9 237.6h0M299.7 239.5h0M300.6 241.1h0M301.4 242.5h0M302.2 243.9h0M303.1 245.2h0M303.9 246.4h0M304.7 247.6h0M305.6 248.8h0M306.4 250.0h0M307.2 251.2h0M308.1 252.5h0M308.9 253.7h0M309.8 254.9h0M310.6 256.2h0M311.4 257.4h0M312.3 258.6h0M313.1 259.9h0M313.9 261.1h0M314.8 262.3h0M315.6 263.4h0M316.4 264.6h0M317.3 265.8h0M318.1 266.9h0M318.9 268.0h0M319.8 269.0h0M320.6 270.1h0M321.4 271.1h0M322.3 272.1h0M323.1 273.0h0M323.9 274.0h0M324.8 274.9h0M325.6 275.7h0M326.4 276.6h0M327.3 277.4h0M328.1 278.1h0M328.9 278.9h0M329.8 279.6h0M330.6 280.3h0M331.4 281.0h0M332.3 281.6h0M333.1 282.2h0M333.9 282.8h0M334.8 283.4h0M335.6 284.0h0M336.4 284.5h0M337.3 285.1h0M338.1 285.6h0M338.9 286.1h0M339.8 286.6h0M340.6 287.0h0M341.4 287.5h0M342.3 287.9h0M343.1 288.4h0M343.9 288.8h0M344.8 289.2h0M345.6 289.6h0M346.4 289.9h0M347.3 290.3h0M348.1 290.7h0M348.9 291.0h0M349.8 291.4h0M350.6 291.7h0M351.4 292.0h0M352.3 292.3h0M353.1 292.6h0M354.0 292.9h0M354.8 293.2h0M355.6 293.5h0M356.5 293.7h0M357.3 294.0h0M358.1 294.2h0M359.0 294.5h0M359.8 294.7h0M360.6 294.9h0M361.5 295.2h0M362.3 295.4h0M363.1 295.6h0M364.0 295.8h0M364.8 296.0h0M365.6 296.2h0M366.5 296.4h0M367.3 296.6h0M368.1 296.7h0M369.0 296.9h0M369.8 297.1h0M370.6 297.2h0M371.5 297.4h0M372.3 297.5h0M373.1 297.7h0M374.0 297.8h0M374.8 297.9h0M375.6 298.1h0M376.5 298.2h0M377.3 298.3h0M378.1 298.4h0M379.0 298.5h0M379.8 298.7h0M380.6 298.8h0M381.5 298.9h0M382.3 299.0h0M383.1 299.0h0M384.0 299.1h0M384.8 299.2h0M385.6 299.3h0M386.5 299.4h0M387.3 299.5h0M388.1 299.5h0M389.0 299.6h0M389.8 299.7h0M390.6 299.7h0M391.5 299.8h0M392.3 299.8h0M393.1 299.9h0M394.0 299.9h0M394.8 300.0h0M395.7 300.0h0M396.5 300.1h0M397.3 300.1h0M398.2 300.2h0M399.0 300.2h0M399.8 300.2h0M400.7 300.3h0M401.5 300.3h0M402.3 300.3h0M403.2 300.3h0M404.0 300.5H539.1"/><path stroke="#0073C8" d="M38.7 300.5H142.1M142.9 300.3h0M143.8 300.0h0M144.6 299.6h0M145.5 299.1h0M146.3 298.4h0M147.1 297.6h0M148.0 296.6h0M148.8 295.5h0M149.6 294.1h0M150.5 292.7h0M151.3 291.1h0M152.1 289.4h0M153.0 287.6h0M153.8 285.7h0M154.6 283.6h0M155.5 281.2h0M156.3 278.7h0M157.1 275.8h0M158.0 272.6h0M158.8 269.1h0M159.6 265.2h0M160.5 260.9h0M161.3 256.3h0M162.1 251.7h0M163.0 247.1h0M163.8 242.5h0M164.6 237.9h0M165.5 233.3h0M166.3 228.8h0M167.1 224.3h0M168.0 219.8h0M168.8 215.4h0M169.6 211.0h0M170.5 206.6h0M171.3 202.3h0M172.1 198.0h0M173.0 193.8h0M173.8 189.6h0M174.6 185.5h0M175.5 181.4h0M176.3 177.4h0M177.1 173.5h0M178.0 169.5h0M178.8 165.7h0M179.6 161.9h0M180.5 158.1h0M181.3 154.4h0M182.1 150.8h0M183.0 147.2h0M183.8 143.6h0M184.6 140.1h0M185.5 136.7h0M186.3 133.4h0M187.2 130.1h0M188.0 127.0h0M188.8 124.0h0M189.7 121.1h0M190.5 118.3h0M191.3 115.6h0M192.2 113.0h0M193.0 110.6h0M193.8 108.2h0M194.7 105.9h0M195.5 103.8h0M196.3 101.7h0M197.2 99.6h0M198.0 97.7h0M198.8 95.8h0M199.7 94.0h0M200.5 92.3h0M201.3 90.6h0M202.2 89.0h0M203.0 87.4h0M203.8 85.9h0M204.7 84.4h0M205.5 83.0h0M206.3 81.6h0M207.2 80.3h0M208.0 79.0h0M208.8 77.9h0M209.7 76.7h0M210.5 75.7h0M211.3 74.7h0M212.2 73.8h0M213.0 72.9h0M213.8 72.1h0M214.7 71.4h0M215.5 70.7h0M216.3 70.1h0M217.2 69.5h0M218.0 69.0h0M218.8 68.6h0M219.7 68.2h0M220.5 67.8h0M221.3 67.5h0M222.2 67.2h0M223.0 67.0h0M223.8 66.9h0M224.7 66.8h0M225.5 66.8h0M226.4 66.9h0M227.2 67.0h0M228.0 67.2h0M228.9 67.5h0M229.7 67.8h0M230.5 68.2h0M231.4 68.6h0M232.2 69.2h0M233.0 69.8h0M233.9 70.4h0M234.7 71.2h0M235.5 72.1h0M236.4 73.1h0M237.2 74.3h0M238.0 75.7h0M238.9 77.4h0M239.7 79.2h0M240.5 81.2h0M241.4 83.2h0M242.2 85.3h0M243.0 87.4h0M243.9 89.6h0M244.7 91.9h0M245.5 94.1h0M246.4 96.5h0M247.2 98.8h0M248.0 101.2h0M248.9 103.6h0M249.7 106.1h0M250.5 108.6h0M251.4 111.0h0M252.2 113.5h0M253.0 116.0h0M253.9 118.5h0M254.7 120.9h0M255.5 123.4h0M256.4 125.9h0M257.2 128.3h0M258.0 130.8h0M258.9 133.3h0M259.7 135.7h0M260.5 138.1h0M261.4 140.6h0M262.2 143.0h0M263.0 145.5h0M263.9 147.9h0M264.7 150.3h0M265.5 152.7h0M266.4 155.1h0M267.2 157.5h0M268.1 159.9h0M268.9 162.3h0M269.7 164.7h0M270.6 167.1h0M271.4 169.4h0M272.2 171.8h0M273.1 174.1h0M273.9 176.5h0M274.7 178.8h0M275.6 181.1h0M276.4 183.4h0M277.2 185.7h0M278.1 188.0h0M278.9 190.3h0M279.7 192.6h0M280.6 194.9h0M281.4 197.1h0M282.2 199.4h0M283.1 201.6h0M283.9 203.8h0M284.7 206.0h0M285.6 208.2h0M286.4 210.4h0M287.2 212.6h0M288.1 214.8h0M288.9 216.9h0M289.7 219.1h0M290.6 221.2h0M291.4 223.3h0M292.2 225.4h0M293.1 227.5h0M293.9 229.5h0M294.7 231.4h0M295.6 233.3h0M296.4 235.1h0M297.2 236.9h0M298.1 238.5h0M298.9 240.1h0M299.7 241.7h0M300.6 243.2h0M301.4 244.6h0M302.2 246.0h0M303.1 247.4h0M303.9 248.7h0M304.7 250.0h0M305.6 251.3h0M306.4 252.5h0M307.2 253.8h0M308.1 255.0h0M308.9 256.3h0M309.8 257.5h0M310.6 258.8h0M311.4 260.1h0M312.3 261.4h0M313.1 262.8h0M313.9 264.1h0M314.8 265.5h0M315.6 266.8h0M316.4 268.1h0M317.3 269.4h0M318.1 270.7h0M318.9 271.9h0M319.8 273.0h0M320.6 274.1h0M321.4 275.2h0M322.3 276.1h0M323.1 277.1h0M323.9 278.0h0M324.8 278.8h0M325.6 279.6h0M326.4 280.3h0M327.3 281.0h0M328.1 281.7h0M328.9 282.3h0M329.8 282.9h0M330.6 283.5h0M331.4 284.1h0M332.3 284.6h0M333.1 285.1h0M333.9 285.7h0M334.8 286.1h0M335.6 286.6h0M336.4 287.1h0M337.3 287.5h0M338.1 288.0h0M338.9 288.4h0M339.8 288.8h0M340.6 289.2h0M341.4 289.6h0M342.3 290.0h0M343.1 290.4h0M343.9 290.7h0M344.8 291.1h0M345.6 291.4h0M346.4 291.7h0M347.3 292.0h0M348.1 292.3h0M348.9 292.6h0M349.8 292.9h0M350.6 293.2h0M351.4 293.5h0M352.3 293.7h0M353.1 294.0h0M354.0 294.2h0M354.8 294.5h0M355.6 294.7h0M356.5 294.9h0M357.3 295.2h0M358.1 295.4h0M359.0 295.6h0M359.8 295.8h0M360.6 295.9h0M361.5 296.1h0M362.3 296.3h0M363.1 296.5h0M364.0 296.6h0M364.8 296.8h0M365.6 297.0h0M366.5 297.1h0M367.3 297.2h0M368.1 297.4h0M369.0 297.5h0M369.8 297.7h0M370.6 297.8h0M371.5 297.9h0M372.3 298.0h0M373.1 298.1h0M374.0 298.2h0M374.8 298.3h0M375.6 298.4h0M376.5 298.5h0M377.3 298.6h0M378.1 298.7h0M379.0 298.8h0M379.8 298.9h0M380.6 298.9h0M381.5 299.0h0M382.3 299.1h0M383.1 299.2h0M384.0 299.2h0M384.8 299.3h0M385.6 299.4h0M386.5 299.4h0M387.3 299.5h0M388.1 299.5h0M389.0 299.6h0M389.8 299.6h0M390.6 299.7h0M391.5 299.7h0M392.3 299.8h0M393.1 299.8h0M394.0 299.8h0M394.8 299.9h0M395.7 299.9h0M396.5 300.0h0M397.3 300.0h0M398.2 300.0h0M399.0 300.1h0M399.8 300.1h0M400.7 300.1h0M401.5 300.2h0M402.3 300.2h0M403.2 300.2h0M404.0 300.3h0M404.8 300.3h0M405.7 300.3h0M406.5 300.5H539.1"/><path stroke="#FA500C" d="M38.7 300.5H128.8M129.6 300.3h0M130.4 300.1h0M131.3 299.9h0M132.1 299.6h0M132.9 299.3h0M133.8 298.9h0M134.6 298.5h0M135.4 298.0h0M136.3 297.5h0M137.1 296.9h0M137.9 296.2h0M138.8 295.4h0M139.6 294.5h0M140.4 293.5h0M141.3 292.4h0M142.1 291.1h0M142.9 289.7h0M143.8 288.0h0M144.6 286.1h0M145.5 283.9h0M146.3 281.3h0M147.1 278.2h0M148.0 274.7h0M148.8 270.6h0M149.6 266.4h0M150.5 262.0h0M151.3 257.5h0M152.1 253.0h0M153.0 248.6h0M153.8 244.4h0M154.6 240.4h0M155.5 236.7h0M156.3 233.1h0M157.1 229.8h0M158.0 226.7h0M158.8 223.8h0M159.6 221.0h0M160.5 218.3h0M161.3 215.7h0M162.1 213.1h0M163.0 210.6h0M163.8 208.0h0M164.6 205.5h0M165.5 203.0h0M166.3 200.4h0M167.1 197.8h0M168.0 195.2h0M168.8 192.5h0M169.6 189.7h0M170.5 186.8h0M171.3 183.8h0M172.1 180.5h0M173.0 176.9h0M173.8 173.0h0M174.6 168.9h0M175.5 165.1h0M176.3 161.7h0M177.1 158.8h0M178.0 156.2h0M178.8 153.7h0M179.6 151.3h0M180.5 148.8h0M181.3 146.2h0M182.1 143.3h0M183.0 140.1h0M183.8 136.7h0M184.6 133.4h0M185.5 130.4h0M186.3 127.7h0M187.2 125.2h0M188.0 123.0h0M188.8 120.9h0M189.7 118.9h0M190.5 117.1h0M191.3 115.3h0M192.2 113.5h0M193.0 111.9h0M193.8 110.3h0M194.7 108.7h0M195.5 107.2h0M196.3 105.7h0M197.2 104.2h0M198.0 102.8h0M198.8 101.3h0M199.7 99.9h0M200.5 98.5h0M201.3 97.1h0M202.2 95.8h0M203.0 94.5h0M203.8 93.3h0M204.7 92.1h0M205.5 91.0h0M206.3 89.9h0M207.2 88.9h0M208.0 87.9h0M208.8 87.0h0M209.7 86.2h0M210.5 85.4h0M211.3 84.7h0M212.2 84.0h0M213.0 83.4h0M213.8 82.8h0M214.7 82.3h0M215.5 81.8h0M216.3 81.4h0M217.2 81.0h0M218.0 80.7h0M218.8 80.4h0M219.7 80.2h0M220.5 80.0h0M221.3 79.9h0M222.2 79.9h0M223.0 79.9h0M223.8 79.9h0M224.7 80.1h0M225.5 80.3h0M226.4 80.6h0M227.2 80.9h0M228.0 81.4h0M228.9 81.9h0M229.7 82.6h0M230.5 83.3h0M231.4 84.2h0M232.2 85.3h0M233.0 86.5h0M233.9 87.9h0M234.7 89.4h0M235.5 91.1h0M236.4 93.0h0M237.2 95.1h0M238.0 97.2h0M238.9 99.3h0M239.7 101.4h0M240.5 103.4h0M241.4 105.4h0M242.2 107.4h0M243.0 109.4h0M243.9 111.4h0M244.7 113.4h0M245.5 115.3h0M246.4 117.2h0M247.2 119.2h0M248.0 121.1h0M248.9 123.0h0M249.7 125.0h0M250.5 126.9h0M251.4 128.9h0M252.2 130.8h0M253.0 132.8h0M253.9 134.8h0M254.7 136.8h0M255.5 138.9h0M256.4 141.0h0M257.2 143.1h0M258.0 145.2h0M258.9 147.4h0M259.7 149.5h0M260.5 151.7h0M261.4 154.0h0M262.2 156.2h0M263.0 158.4h0M263.9 160.7h0M264.7 162.9h0M265.5 165.2h0M266.4 167.4h0M267.2 169.7h0M268.1 171.9h0M268.9 174.1h0M269.7 176.3h0M270.6 178.5h0M271.4 180.6h0M272.2 182.7h0M273.1 184.8h0M273.9 186.9h0M274.7 188.9h0M275.6 191.0h0M276.4 193.0h0M277.2 195.0h0M278.1 197.0h0M278.9 199.0h0M279.7 201.0h0M280.6 203.0h0M281.4 205.1h0M282.2 207.1h0M283.1 209.2h0M283.9 211.3h0M284.7 213.4h0M285.6 215.6h0M286.4 217.9h0M287.2 220.2h0M288.1 222.6h0M288.9 225.0h0M289.7 227.3h0M290.6 229.6h0M291.4 231.7h0M292.2 233.7h0M293.1 235.6h0M293.9 237.3h0M294.7 238.9h0M295.6 240.3h0M296.4 241.6h0M297.2 242.9h0M298.1 244.1h0M298.9 245.3h0M299.7 246.5h0M300.6 247.7h0M301.4 248.9h0M302.2 250.1h0M303.1 251.4h0M303.9 252.7h0M304.7 254.1h0M305.6 255.5h0M306.4 256.9h0M307.2 258.4h0M308.1 259.9h0M308.9 261.5h0M309.8 263.1h0M310.6 264.7h0M311.4 266.3h0M312.3 267.9h0M313.1 269.4h0M313.9 270.9h0M314.8 272.3h0M315.6 273.6h0M316.4 274.8h0M317.3 276.0h0M318.1 277.1h0M318.9 278.1h0M319.8 279.0h0M320.6 279.9h0M321.4 280.7h0M322.3 281.5h0M323.1 282.2h0M323.9 282.8h0M324.8 283.4h0M325.6 284.0h0M326.4 284.6h0M327.3 285.1h0M328.1 285.6h0M328.9 286.1h0M329.8 286.6h0M330.6 287.1h0M331.4 287.5h0M332.3 287.9h0M333.1 288.4h0M333.9 288.8h0M334.8 289.2h0M335.6 289.5h0M336.4 289.9h0M337.3 290.3h0M338.1 290.6h0M338.9 291.0h0M339.8 291.3h0M340.6 291.6h0M341.4 291.9h0M342.3 292.2h0M343.1 292.5h0M343.9 292.8h0M344.8 293.1h0M345.6 293.3h0M346.4 293.6h0M347.3 293.8h0M348.1 294.1h0M348.9 294.3h0M349.8 294.5h0M350.6 294.8h0M351.4 295.0h0M352.3 295.2h0M353.1 295.4h0M354.0 295.6h0M354.8 295.7h0M355.6 295.9h0M356.5 296.1h0M357.3 296.3h0M358.1 296.4h0M359.0 296.6h0M359.8 296.7h0M360.6 296.9h0M361.5 297.0h0M362.3 297.1h0M363.1 297.3h0M364.0 297.4h0M364.8 297.5h0M365.6 297.6h0M366.5 297.7h0M367.3 297.8h0M368.1 297.9h0M369.0 298.0h0M369.8 298.1h0M370.6 298.2h0M371.5 298.3h0M372.3 298.4h0M373.1 298.5h0M374.0 298.6h0M374.8 298.6h0M375.6 298.7h0M376.5 298.8h0M377.3 298.8h0M378.1 298.9h0M379.0 299.0h0M379.8 299.0h0M380.6 299.1h0M381.5 299.1h0M382.3 299.2h0M383.1 299.2h0M384.0 299.3h0M384.8 299.3h0M385.6 299.4h0M386.5 299.4h0M387.3 299.5h0M388.1 299.5h0M389.0 299.5h0M389.8 299.6h0M390.6 299.6h0M391.5 299.6h0M392.3 299.7h0M393.1 299.7h0M394.0 299.8h0M394.8 299.8h0M395.7 299.8h0M396.5 299.9h0M397.3 299.9h0M398.2 299.9h0M399.0 300.0h0M399.8 300.0h0M400.7 300.0h0M401.5 300.1h0M402.3 300.1h0M403.2 300.1h0M404.0 300.2h0M404.8 300.2h0M405.7 300.3h0M406.5 300.3h0M407.3 300.3h0M408.2 300.5H539.1"/><path stroke="#F9B00C" d="M38.7 300.5H47.0M47.9 300.3h0M48.7 300.3h0M49.5 300.3h0M50.4 300.3h0M51.2 300.3h0M52.0 300.3h0M52.9 300.3h0M53.7 300.3h0M54.5 300.3h0M55.4 300.3h0M56.2 300.5H96.2M97.1 300.3h0M97.9 300.3h0M98.7 300.1h0M99.6 300.0h0M100.4 299.9h0M101.2 299.7h0M102.1 299.5h0M102.9 299.3h0M103.8 299.0h0M104.6 298.8h0M105.4 298.4h0M106.3 298.1h0M107.1 297.7h0M107.9 297.2h0M108.8 296.7h0M109.6 296.1h0M110.4 295.5h0M111.3 294.8h0M112.1 294.0h0M112.9 293.2h0M113.8 292.3h0M114.6 291.4h0M115.4 290.4h0M116.3 289.3h0M117.1 288.3h0M117.9 287.1h0M118.8 285.9h0M119.6 284.7h0M120.4 283.5h0M121.3 282.3h0M122.1 281.1h0M122.9 279.9h0M123.8 278.7h0M124.6 277.6h0M125.4 276.4h0M126.3 275.3h0M127.1 274.1h0M127.9 272.9h0M128.8 271.7h0M129.6 270.5h0M130.4 269.2h0M131.3 267.8h0M132.1 266.4h0M132.9 265.0h0M133.8 263.4h0M134.6 261.8h0M135.4 260.2h0M136.3 258.5h0M137.1 256.7h0M137.9 254.9h0M138.8 253.0h0M139.6 251.1h0M140.4 249.2h0M141.3 247.3h0M142.1 245.3h0M142.9 243.4h0M143.8 241.4h0M144.6 239.5h0M145.5 237.5h0M146.3 235.5h0M147.1 233.6h0M148.0 231.6h0M148.8 229.6h0M149.6 227.6h0M150.5 225.6h0M151.3 223.6h0M152.1 221.5h0M153.0 219.4h0M153.8 217.3h0M154.6 215.2h0M155.5 213.0h0M156.3 210.7h0M157.1 208.5h0M158.0 206.1h0M158.8 203.7h0M159.6 201.3h0M160.5 198.8h0M161.3 196.2h0M162.1 193.6h0M163.0 190.9h0M163.8 188.3h0M164.6 185.7h0M165.5 183.0h0M166.3 180.5h0M167.1 178.0h0M168.0 175.5h0M168.8 173.1h0M169.6 170.8h0M170.5 168.6h0M171.3 166.4h0M172.1 164.3h0M173.0 162.3h0M173.8 160.4h0M174.6 158.4h0M175.5 156.5h0M176.3 154.7h0M177.1 152.9h0M178.0 151.1h0M178.8 149.3h0M179.6 147.5h0M180.5 145.8h0M181.3 144.1h0M182.1 142.4h0M183.0 140.6h0M183.8 138.9h0M184.6 137.2h0M185.5 135.5h0M186.3 133.8h0M187.2 132.1h0M188.0 130.4h0M188.8 128.6h0M189.7 126.9h0M190.5 125.1h0M191.3 123.3h0M192.2 121.5h0M193.0 119.7h0M193.8 118.0h0M194.7 116.2h0M195.5 114.6h0M196.3 113.1h0M197.2 111.6h0M198.0 110.3h0M198.8 109.0h0M199.7 107.8h0M200.5 106.8h0M201.3 105.8h0M202.2 104.9h0M203.0 104.1h0M203.8 103.3h0M204.7 102.6h0M205.5 102.0h0M206.3 101.4h0M207.2 100.9h0M208.0 100.4h0M208.8 100.0h0M209.7 99.6h0M210.5 99.3h0M211.3 99.0h0M212.2 98.8h0M213.0 98.7h0M213.8 98.6h0M214.7 98.5h0M215.5 98.5h0M216.3 98.6h0M217.2 98.7h0M218.0 98.9h0M218.8 99.0h0M219.7 99.3h0M220.5 99.6h0M221.3 99.9h0M222.2 100.2h0M223.0 100.6h0M223.8 101.1h0M224.7 101.5h0M225.5 102.0h0M226.4 102.5h0M227.2 103.1h0M228.0 103.7h0M228.9 104.3h0M229.7 105.0h0M230.5 105.7h0M231.4 106.5h0M232.2 107.3h0M233.0 108.1h0M233.9 109.0h0M234.7 110.0h0M235.5 111.0h0M236.4 112.0h0M237.2 113.2h0M238.0 114.4h0M238.9 115.6h0M239.7 117.0h0M240.5 118.4h0M241.4 119.9h0M242.2 121.5h0M243.0 123.1h0M243.9 124.9h0M244.7 126.7h0M245.5 128.6h0M246.4 130.5h0M247.2 132.5h0M248.0 134.5h0M248.9 136.5h0M249.7 138.6h0M250.5 140.6h0M251.4 142.6h0M252.2 144.6h0M253.0 146.5h0M253.9 148.5h0M254.7 150.4h0M255.5 152.3h0M256.4 154.2h0M257.2 156.1h0M258.0 157.9h0M258.9 159.8h0M259.7 161.6h0M260.5 163.5h0M261.4 165.3h0M262.2 167.2h0M263.0 169.0h0M263.9 170.8h0M264.7 172.7h0M265.5 174.5h0M266.4 176.3h0M267.2 178.1h0M268.1 180.0h0M268.9 181.8h0M269.7 183.7h0M270.6 185.6h0M271.4 187.4h0M272.2 189.3h0M273.1 191.2h0M273.9 193.1h0M274.7 195.1h0M275.6 197.0h0M276.4 199.0h0M277.2 201.0h0M278.1 203.0h0M278.9 205.0h0M279.7 207.1h0M280.6 209.2h0M281.4 211.3h0M282.2 213.5h0M283.1 215.6h0M283.9 217.7h0M284.7 219.9h0M285.6 222.0h0M286.4 224.2h0M287.2 226.3h0M288.1 228.4h0M288.9 230.4h0M289.7 232.5h0M290.6 234.5h0M291.4 236.4h0M292.2 238.4h0M293.1 240.2h0M293.9 242.1h0M294.7 243.9h0M295.6 245.6h0M296.4 247.3h0M297.2 249.0h0M298.1 250.6h0M298.9 252.2h0M299.7 253.7h0M300.6 255.2h0M301.4 256.7h0M302.2 258.1h0M303.1 259.5h0M303.9 260.8h0M304.7 262.1h0M305.6 263.4h0M306.4 264.6h0M307.2 265.8h0M308.1 267.0h0M308.9 268.1h0M309.8 269.2h0M310.6 270.3h0M311.4 271.3h0M312.3 272.3h0M313.1 273.3h0M313.9 274.2h0M314.8 275.2h0M315.6 276.0h0M316.4 276.9h0M317.3 277.7h0M318.1 278.5h0M318.9 279.3h0M319.8 280.1h0M320.6 280.8h0M321.4 281.5h0M322.3 282.2h0M323.1 282.9h0M323.9 283.5h0M324.8 284.1h0M325.6 284.7h0M326.4 285.3h0M327.3 285.9h0M328.1 286.4h0M328.9 286.9h0M329.8 287.4h0M330.6 287.9h0M331.4 288.4h0M332.3 288.8h0M333.1 289.3h0M333.9 289.7h0M334.8 290.1h0M335.6 290.5h0M336.4 290.9h0M337.3 291.2h0M338.1 291.6h0M338.9 291.9h0M339.8 292.2h0M340.6 292.5h0M341.4 292.8h0M342.3 293.1h0M343.1 293.3h0M343.9 293.6h0M344.8 293.8h0M345.6 294.0h0M346.4 294.3h0M347.3 294.5h0M348.1 294.7h0M348.9 294.9h0M349.8 295.0h0M350.6 295.2h0M351.4 295.4h0M352.3 295.5h0M353.1 295.7h0M354.0 295.8h0M354.8 296.0h0M355.6 296.1h0M356.5 296.3h0M357.3 296.4h0M358.1 296.5h0M359.0 296.6h0M359.8 296.7h0M360.6 296.8h0M361.5 297.0h0M362.3 297.1h0M363.1 297.2h0M364.0 297.3h0M364.8 297.4h0M365.6 297.5h0M366.5 297.6h0M367.3 297.6h0M368.1 297.7h0M369.0 297.8h0M369.8 297.9h0M370.6 298.0h0M371.5 298.1h0M372.3 298.2h0M373.1 298.3h0M374.0 298.4h0M374.8 298.5h0M375.6 298.6h0M376.5 298.7h0M377.3 298.8h0M378.1 298.9h0M379.0 299.0h0M379.8 299.1h0M380.6 299.2h0M381.5 299.4h0M382.3 299.5h0M383.1 299.6h0M384.0 299.8h0M384.8 299.9h0M385.6 300.0h0M386.5 300.2h0M387.3 300.5H539.1"/><path stroke="#8A24A8" d="M38.7 300.5H42.9M43.7 300.3h0M44.5 300.3h0M45.4 300.3h0M46.2 300.3h0M47.0 300.3h0M47.9 300.3h0M48.7 300.3h0M49.5 300.3h0M50.4 300.3h0M51.2 300.3h0M52.0 300.3h0M52.9 300.3h0M53.7 300.3h0M54.5 300.5H82.1M82.9 300.3h0M83.7 300.2h0M84.6 300.1h0M85.4 300.0h0M86.2 299.8h0M87.1 299.7h0M87.9 299.5h0M88.7 299.3h0M89.6 299.1h0M90.4 298.9h0M91.2 298.6h0M92.1 298.3h0M92.9 298.0h0M93.7 297.7h0M94.6 297.3h0M95.4 296.9h0M96.2 296.5h0M97.1 296.1h0M97.9 295.6h0M98.7 295.1h0M99.6 294.6h0M100.4 294.1h0M101.2 293.5h0M102.1 293.0h0M102.9 292.4h0M103.8 291.7h0M104.6 291.1h0M105.4 290.5h0M106.3 289.8h0M107.1 289.1h0M107.9 288.4h0M108.8 287.7h0M109.6 287.0h0M110.4 286.2h0M111.3 285.5h0M112.1 284.7h0M112.9 283.9h0M113.8 283.1h0M114.6 282.2h0M115.4 281.4h0M116.3 280.5h0M117.1 279.6h0M117.9 278.7h0M118.8 277.8h0M119.6 276.8h0M120.4 275.8h0M121.3 274.8h0M122.1 273.8h0M122.9 272.8h0M123.8 271.7h0M124.6 270.6h0M125.4 269.4h0M126.3 268.2h0M127.1 267.0h0M127.9 265.8h0M128.8 264.5h0M129.6 263.2h0M130.4 261.8h0M131.3 260.4h0M132.1 258.9h0M132.9 257.5h0M133.8 255.9h0M134.6 254.4h0M135.4 252.8h0M136.3 251.1h0M137.1 249.4h0M137.9 247.7h0M138.8 246.0h0M139.6 244.2h0M140.4 242.4h0M141.3 240.5h0M142.1 238.7h0M142.9 236.8h0M143.8 235.0h0M144.6 233.1h0M145.5 231.2h0M146.3 229.3h0M147.1 227.4h0M148.0 225.5h0M148.8 223.6h0M149.6 221.7h0M150.5 219.7h0M151.3 217.8h0M152.1 215.8h0M153.0 213.8h0M153.8 211.8h0M154.6 209.7h0M155.5 207.6h0M156.3 205.5h0M157.1 203.3h0M158.0 201.1h0M158.8 198.9h0M159.6 196.6h0M160.5 194.2h0M161.3 191.9h0M162.1 189.5h0M163.0 187.1h0M163.8 184.6h0M164.6 182.2h0M165.5 179.8h0M166.3 177.3h0M167.1 174.9h0M168.0 172.5h0M168.8 170.1h0M169.6 167.8h0M170.5 165.5h0M171.3 163.2h0M172.1 160.9h0M173.0 158.7h0M173.8 156.6h0M174.6 154.5h0M175.5 152.4h0M176.3 150.4h0M177.1 148.5h0M178.0 146.6h0M178.8 144.7h0M179.6 142.9h0M180.5 141.2h0M181.3 139.4h0M182.1 137.8h0M183.0 136.1h0M183.8 134.6h0M184.6 133.0h0M185.5 131.5h0M186.3 130.0h0M187.2 128.6h0M188.0 127.2h0M188.8 125.8h0M189.7 124.5h0M190.5 123.2h0M191.3 121.9h0M192.2 120.7h0M193.0 119.5h0M193.8 118.4h0M194.7 117.3h0M195.5 116.2h0M196.3 115.2h0M197.2 114.3h0M198.0 113.3h0M198.8 112.5h0M199.7 111.7h0M200.5 110.9h0M201.3 110.2h0M202.2 109.5h0M203.0 108.9h0M203.8 108.3h0M204.7 107.8h0M205.5 107.3h0M206.3 106.8h0M207.2 106.4h0M208.0 106.1h0M208.8 105.7h0M209.7 105.4h0M210.5 105.2h0M211.3 105.0h0M212.2 104.8h0M213.0 104.6h0M213.8 104.5h0M214.7 104.5h0M215.5 104.4h0M216.3 104.4h0M217.2 104.5h0M218.0 104.5h0M218.8 104.7h0M219.7 104.8h0M220.5 105.0h0M221.3 105.2h0M222.2 105.4h0M223.0 105.7h0M223.8 106.0h0M224.7 106.4h0M225.5 106.7h0M226.4 107.2h0M227.2 107.6h0M228.0 108.1h0M228.9 108.7h0M229.7 109.3h0M230.5 109.9h0M231.4 110.6h0M232.2 111.4h0M233.0 112.3h0M233.9 113.2h0M234.7 114.2h0M235.5 115.3h0M236.4 116.5h0M237.2 117.8h0M238.0 119.2h0M238.9 120.7h0M239.7 122.3h0M240.5 124.1h0M241.4 125.9h0M242.2 127.8h0M243.0 129.8h0M243.9 131.8h0M244.7 133.8h0M245.5 135.8h0M246.4 137.8h0M247.2 139.7h0M248.0 141.6h0M248.9 143.4h0M249.7 145.3h0M250.5 147.1h0M251.4 148.9h0M252.2 150.7h0M253.0 152.5h0M253.9 154.2h0M254.7 156.0h0M255.5 157.7h0M256.4 159.5h0M257.2 161.2h0M258.0 162.9h0M258.9 164.6h0M259.7 166.3h0M260.5 168.1h0M261.4 169.8h0M262.2 171.5h0M263.0 173.2h0M263.9 175.0h0M264.7 176.7h0M265.5 178.5h0M266.4 180.2h0M267.2 182.0h0M268.1 183.8h0M268.9 185.6h0M269.7 187.5h0M270.6 189.3h0M271.4 191.2h0M272.2 193.1h0M273.1 195.1h0M273.9 197.1h0M274.7 199.1h0M275.6 201.2h0M276.4 203.3h0M277.2 205.5h0M278.1 207.7h0M278.9 210.0h0M279.7 212.2h0M280.6 214.5h0M281.4 216.8h0M282.2 219.0h0M283.1 221.3h0M283.9 223.5h0M284.7 225.6h0M285.6 227.8h0M286.4 229.9h0M287.2 231.9h0M288.1 233.9h0M288.9 235.8h0M289.7 237.7h0M290.6 239.6h0M291.4 241.4h0M292.2 243.1h0M293.1 244.8h0M293.9 246.5h0M294.7 248.1h0M295.6 249.7h0M296.4 251.2h0M297.2 252.7h0M298.1 254.2h0M298.9 255.6h0M299.7 257.0h0M300.6 258.4h0M301.4 259.7h0M302.2 261.0h0M303.1 262.2h0M303.9 263.4h0M304.7 264.6h0M305.6 265.8h0M306.4 266.9h0M307.2 268.0h0M308.1 269.0h0M308.9 270.1h0M309.8 271.1h0M310.6 272.1h0M311.4 273.0h0M312.3 273.9h0M313.1 274.8h0M313.9 275.7h0M314.8 276.6h0M315.6 277.4h0M316.4 278.2h0M317.3 279.0h0M318.1 279.7h0M318.9 280.5h0M319.8 281.2h0M320.6 281.9h0M321.4 282.5h0M322.3 283.2h0M323.1 283.8h0M323.9 284.4h0M324.8 285.0h0M325.6 285.6h0M326.4 286.1h0M327.3 286.7h0M328.1 287.2h0M328.9 287.7h0M329.8 288.2h0M330.6 288.6h0M331.4 289.1h0M332.3 289.5h0M333.1 289.9h0M333.9 290.3h0M334.8 290.7h0M335.6 291.1h0M336.4 291.4h0M337.3 291.8h0M338.1 292.1h0M338.9 292.4h0M339.8 292.7h0M340.6 292.9h0M341.4 293.2h0M342.3 293.5h0M343.1 293.7h0M343.9 294.0h0M344.8 294.2h0M345.6 294.4h0M346.4 294.6h0M347.3 294.8h0M348.1 295.0h0M348.9 295.2h0M349.8 295.4h0M350.6 295.5h0M351.4 295.7h0M352.3 295.9h0M353.1 296.0h0M354.0 296.2h0M354.8 296.3h0M355.6 296.5h0M356.5 296.6h0M357.3 296.7h0M358.1 296.8h0M359.0 297.0h0M359.8 297.1h0M360.6 297.2h0M361.5 297.3h0M362.3 297.4h0M363.1 297.5h0M364.0 297.6h0M364.8 297.7h0M365.6 297.8h0M366.5 297.9h0M367.3 298.0h0M368.1 298.1h0M369.0 298.2h0M369.8 298.3h0M370.6 298.4h0M371.5 298.5h0M372.3 298.6h0M373.1 298.7h0M374.0 298.8h0M374.8 298.9h0M375.6 299.0h0M376.5 299.1h0M377.3 299.2h0M378.1 299.3h0M379.0 299.4h0M379.8 299.5h0M380.6 299.7h0M381.5 299.8h0M382.3 299.9h0M383.1 300.0h0M384.0 300.2h0M384.8 300.3h0M385.6 300.5H539.1"/><path stroke="#5EB21E" d="M38.7 300.5H39.5M40.4 300.3h0M41.2 300.3h0M42.0 300.2h0M42.9 300.1h0M43.7 300.0h0M44.5 300.0h0M45.4 299.9h0M46.2 299.8h0M47.0 299.8h0M47.9 299.7h0M48.7 299.6h0M49.5 299.5h0M50.4 299.5h0M51.2 299.4h0M52.0 299.3h0M52.9 299.3h0M53.7 299.2h0M54.5 299.1h0M55.4 299.0h0M56.2 298.9h0M57.0 298.9h0M57.9 298.8h0M58.7 298.7h0M59.5 298.6h0M60.4 298.5h0M61.2 298.4h0M62.1 298.3h0M62.9 298.2h0M63.7 298.1h0M64.6 298.0h0M65.4 297.9h0M66.2 297.8h0M67.1 297.7h0M67.9 297.5h0M68.7 297.4h0M69.6 297.3h0M70.4 297.1h0M71.2 297.0h0M72.1 296.8h0M72.9 296.7h0M73.7 296.5h0M74.6 296.3h0M75.4 296.1h0M76.2 296.0h0M77.1 295.8h0M77.9 295.6h0M78.7 295.4h0M79.6 295.1h0M80.4 294.9h0M81.2 294.7h0M82.1 294.4h0M82.9 294.2h0M83.7 293.9h0M84.6 293.7h0M85.4 293.4h0M86.2 293.1h0M87.1 292.8h0M87.9 292.5h0M88.7 292.1h0M89.6 291.8h0M90.4 291.4h0M91.2 291.0h0M92.1 290.7h0M92.9 290.3h0M93.7 289.8h0M94.6 289.4h0M95.4 288.9h0M96.2 288.5h0M97.1 288.0h0M97.9 287.5h0M98.7 287.0h0M99.6 286.4h0M100.4 285.9h0M101.2 285.3h0M102.1 284.7h0M102.9 284.1h0M103.8 283.5h0M104.6 282.9h0M105.4 282.2h0M106.3 281.5h0M107.1 280.9h0M107.9 280.1h0M108.8 279.4h0M109.6 278.7h0M110.4 277.9h0M111.3 277.1h0M112.1 276.3h0M112.9 275.5h0M113.8 274.7h0M114.6 273.9h0M115.4 273.0h0M116.3 272.1h0M117.1 271.2h0M117.9 270.3h0M118.8 269.3h0M119.6 268.4h0M120.4 267.4h0M121.3 266.4h0M122.1 265.4h0M122.9 264.3h0M123.8 263.2h0M124.6 262.1h0M125.4 261.0h0M126.3 259.9h0M127.1 258.7h0M127.9 257.5h0M128.8 256.2h0M129.6 255.0h0M130.4 253.6h0M131.3 252.3h0M132.1 250.9h0M132.9 249.5h0M133.8 248.0h0M134.6 246.4h0M135.4 244.9h0M136.3 243.2h0M137.1 241.5h0M137.9 239.7h0M138.8 237.9h0M139.6 236.0h0M140.4 233.9h0M141.3 231.8h0M142.1 229.6h0M142.9 227.3h0M143.8 224.9h0M144.6 222.5h0M145.5 220.0h0M146.3 217.4h0M147.1 214.9h0M148.0 212.4h0M148.8 209.9h0M149.6 207.5h0M150.5 205.1h0M151.3 202.8h0M152.1 200.7h0M153.0 198.6h0M153.8 196.6h0M154.6 194.6h0M155.5 192.8h0M156.3 190.9h0M157.1 189.1h0M158.0 187.4h0M158.8 185.6h0M159.6 183.9h0M160.5 182.2h0M161.3 180.4h0M162.1 178.7h0M163.0 177.0h0M163.8 175.3h0M164.6 173.5h0M165.5 171.7h0M166.3 169.9h0M167.1 168.1h0M168.0 166.2h0M168.8 164.2h0M169.6 162.3h0M170.5 160.3h0M171.3 158.3h0M172.1 156.2h0M173.0 154.2h0M173.8 152.3h0M174.6 150.3h0M175.5 148.4h0M176.3 146.6h0M177.1 144.8h0M178.0 143.1h0M178.8 141.5h0M179.6 139.9h0M180.5 138.4h0M181.3 137.0h0M182.1 135.6h0M183.0 134.3h0M183.8 133.0h0M184.6 131.8h0M185.5 130.7h0M186.3 129.6h0M187.2 128.6h0M188.0 127.6h0M188.8 126.7h0M189.7 125.8h0M190.5 124.9h0M191.3 124.1h0M192.2 123.3h0M193.0 122.6h0M193.8 121.9h0M194.7 121.2h0M195.5 120.5h0M196.3 119.9h0M197.2 119.3h0M198.0 118.7h0M198.8 118.2h0M199.7 117.7h0M200.5 117.2h0M201.3 116.7h0M202.2 116.3h0M203.0 115.9h0M203.8 115.5h0M204.7 115.1h0M205.5 114.8h0M206.3 114.4h0M207.2 114.1h0M208.0 113.9h0M208.8 113.6h0M209.7 113.4h0M210.5 113.2h0M211.3 113.0h0M212.2 112.9h0M213.0 112.8h0M213.8 112.7h0M214.7 112.6h0M215.5 112.5h0M216.3 112.5h0M217.2 112.5h0M218.0 112.6h0M218.8 112.6h0M219.7 112.7h0M220.5 112.8h0M221.3 113.0h0M222.2 113.2h0M223.0 113.4h0M223.8 113.6h0M224.7 113.9h0M225.5 114.3h0M226.4 114.6h0M227.2 115.1h0M228.0 115.6h0M228.9 116.1h0M229.7 116.8h0M230.5 117.5h0M231.4 118.3h0M232.2 119.2h0M233.0 120.2h0M233.9 121.3h0M234.7 122.5h0M235.5 123.8h0M236.4 125.3h0M237.2 126.9h0M238.0 128.5h0M238.9 130.2h0M239.7 132.0h0M240.5 133.8h0M241.4 135.6h0M242.2 137.4h0M243.0 139.2h0M243.9 141.1h0M244.7 142.9h0M245.5 144.7h0M246.4 146.6h0M247.2 148.4h0M248.0 150.3h0M248.9 152.1h0M249.7 154.0h0M250.5 155.8h0M251.4 157.7h0M252.2 159.6h0M253.0 161.4h0M253.9 163.3h0M254.7 165.2h0M255.5 167.1h0M256.4 168.9h0M257.2 170.8h0M258.0 172.7h0M258.9 174.5h0M259.7 176.4h0M260.5 178.3h0M261.4 180.1h0M262.2 182.0h0M263.0 183.8h0M263.9 185.7h0M264.7 187.5h0M265.5 189.4h0M266.4 191.2h0M267.2 193.0h0M268.1 194.9h0M268.9 196.7h0M269.7 198.5h0M270.6 200.3h0M271.4 202.1h0M272.2 203.8h0M273.1 205.6h0M273.9 207.4h0M274.7 209.1h0M275.6 210.9h0M276.4 212.6h0M277.2 214.4h0M278.1 216.2h0M278.9 217.9h0M279.7 219.7h0M280.6 221.5h0M281.4 223.3h0M282.2 225.1h0M283.1 226.9h0M283.9 228.8h0M284.7 230.7h0M285.6 232.6h0M286.4 234.5h0M287.2 236.4h0M288.1 238.3h0M288.9 240.2h0M289.7 242.1h0M290.6 244.0h0M291.4 245.8h0M292.2 247.6h0M293.1 249.3h0M293.9 251.0h0M294.7 252.6h0M295.6 254.1h0M296.4 255.6h0M297.2 257.1h0M298.1 258.5h0M298.9 259.9h0M299.7 261.2h0M300.6 262.5h0M301.4 263.7h0M302.2 264.9h0M303.1 266.0h0M303.9 267.2h0M304.7 268.3h0M305.6 269.3h0M306.4 270.4h0M307.2 271.4h0M308.1 272.3h0M308.9 273.3h0M309.8 274.2h0M310.6 275.1h0M311.4 276.0h0M312.3 276.8h0M313.1 277.7h0M313.9 278.5h0M314.8 279.2h0M315.6 280.0h0M316.4 280.7h0M317.3 281.4h0M318.1 282.1h0M318.9 282.8h0M319.8 283.4h0M320.6 284.1h0M321.4 284.7h0M322.3 285.3h0M323.1 285.8h0M323.9 286.4h0M324.8 286.9h0M325.6 287.4h0M326.4 287.9h0M327.3 288.4h0M328.1 288.9h0M328.9 289.3h0M329.8 289.8h0M330.6 290.2h0M331.4 290.6h0M332.3 290.9h0M333.1 291.3h0M333.9 291.7h0M334.8 292.0h0M335.6 292.3h0M336.4 292.6h0M337.3 292.9h0M338.1 293.2h0M338.9 293.4h0M339.8 293.7h0M340.6 293.9h0M341.4 294.1h0M342.3 294.4h0M343.1 294.6h0M343.9 294.8h0M344.8 294.9h0M345.6 295.1h0M346.4 295.3h0M347.3 295.5h0M348.1 295.6h0M348.9 295.8h0M349.8 295.9h0M350.6 296.1h0M351.4 296.2h0M352.3 296.3h0M353.1 296.5h0M354.0 296.6h0M354.8 296.7h0M355.6 296.8h0M356.5 296.9h0M357.3 297.0h0M358.1 297.1h0M359.0 297.2h0M359.8 297.3h0M360.6 297.4h0M361.5 297.5h0M362.3 297.6h0M363.1 297.7h0M364.0 297.8h0M364.8 297.9h0M365.6 297.9h0M366.5 298.0h0M367.3 298.1h0M368.1 298.2h0M369.0 298.3h0M369.8 298.4h0M370.6 298.5h0M371.5 298.6h0M372.3 298.7h0M373.1 298.8h0M374.0 298.9h0M374.8 299.0h0M375.6 299.1h0M376.5 299.2h0M377.3 299.3h0M378.1 299.5h0M379.0 299.6h0M379.8 299.7h0M380.6 299.9h0M381.5 300.0h0M382.3 300.2h0M383.1 300.3h0M384.0 300.5H539.1"/><path stroke="#14BEF2" d="M38.7 300.5H39.5M40.4 300.3h0M41.2 300.1h0M42.0 300.0h0M42.9 299.9h0M43.7 299.8h0M44.5 299.7h0M45.4 299.6h0M46.2 299.5h0M47.0 299.4h0M47.9 299.3h0M48.7 299.2h0M49.5 299.1h0M50.4 299.0h0M51.2 298.9h0M52.0 298.8h0M52.9 298.7h0M53.7 298.6h0M54.5 298.5h0M55.4 298.5h0M56.2 298.4h0M57.0 298.3h0M57.9 298.2h0M58.7 298.1h0M59.5 298.0h0M60.4 297.8h0M61.2 297.7h0M62.1 297.6h0M62.9 297.5h0M63.7 297.4h0M64.6 297.3h0M65.4 297.1h0M66.2 297.0h0M67.1 296.9h0M67.9 296.7h0M68.7 296.6h0M69.6 296.4h0M70.4 296.3h0M71.2 296.1h0M72.1 296.0h0M72.9 295.8h0M73.7 295.6h0M74.6 295.4h0M75.4 295.2h0M76.2 295.0h0M77.1 294.8h0M77.9 294.6h0M78.7 294.3h0M79.6 294.1h0M80.4 293.8h0M81.2 293.6h0M82.1 293.3h0M82.9 293.0h0M83.7 292.7h0M84.6 292.4h0M85.4 292.1h0M86.2 291.7h0M87.1 291.4h0M87.9 291.0h0M88.7 290.6h0M89.6 290.2h0M90.4 289.8h0M91.2 289.3h0M92.1 288.8h0M92.9 288.3h0M93.7 287.8h0M94.6 287.3h0M95.4 286.7h0M96.2 286.1h0M97.1 285.5h0M97.9 284.9h0M98.7 284.2h0M99.6 283.5h0M100.4 282.8h0M101.2 282.1h0M102.1 281.4h0M102.9 280.6h0M103.8 279.8h0M104.6 279.0h0M105.4 278.2h0M106.3 277.4h0M107.1 276.5h0M107.9 275.6h0M108.8 274.7h0M109.6 273.9h0M110.4 272.9h0M111.3 272.0h0M112.1 271.1h0M112.9 270.2h0M113.8 269.2h0M114.6 268.3h0M115.4 267.4h0M116.3 266.4h0M117.1 265.4h0M117.9 264.5h0M118.8 263.5h0M119.6 262.5h0M120.4 261.5h0M121.3 260.4h0M122.1 259.4h0M122.9 258.3h0M123.8 257.3h0M124.6 256.2h0M125.4 255.1h0M126.3 253.9h0M127.1 252.8h0M127.9 251.6h0M128.8 250.4h0M129.6 249.1h0M130.4 247.8h0M131.3 246.5h0M132.1 245.1h0M132.9 243.7h0M133.8 242.3h0M134.6 240.7h0M135.4 239.1h0M136.3 237.4h0M137.1 235.7h0M137.9 233.8h0M138.8 231.8h0M139.6 229.7h0M140.4 227.4h0M141.3 225.1h0M142.1 222.7h0M142.9 220.1h0M143.8 217.5h0M144.6 214.9h0M145.5 212.2h0M146.3 209.6h0M147.1 207.0h0M148.0 204.5h0M148.8 202.1h0M149.6 199.8h0M150.5 197.7h0M151.3 195.6h0M152.1 193.7h0M153.0 191.8h0M153.8 190.0h0M154.6 188.2h0M155.5 186.5h0M156.3 184.8h0M157.1 183.1h0M158.0 181.5h0M158.8 179.8h0M159.6 178.2h0M160.5 176.6h0M161.3 174.9h0M162.1 173.3h0M163.0 171.6h0M163.8 170.0h0M164.6 168.3h0M165.5 166.5h0M166.3 164.8h0M167.1 163.0h0M168.0 161.2h0M168.8 159.4h0M169.6 157.6h0M170.5 155.8h0M171.3 154.0h0M172.1 152.2h0M173.0 150.4h0M173.8 148.7h0M174.6 147.0h0M175.5 145.4h0M176.3 143.8h0M177.1 142.2h0M178.0 140.7h0M178.8 139.2h0M179.6 137.8h0M180.5 136.4h0M181.3 135.1h0M182.1 133.8h0M183.0 132.6h0M183.8 131.4h0M184.6 130.3h0M185.5 129.2h0M186.3 128.2h0M187.2 127.2h0M188.0 126.2h0M188.8 125.3h0M189.7 124.5h0M190.5 123.6h0M191.3 122.9h0M192.2 122.1h0M193.0 121.4h0M193.8 120.7h0M194.7 120.1h0M195.5 119.5h0M196.3 118.9h0M197.2 118.4h0M198.0 117.8h0M198.8 117.4h0M199.7 116.9h0M200.5 116.5h0M201.3 116.1h0M202.2 115.7h0M203.0 115.3h0M203.8 115.0h0M204.7 114.7h0M205.5 114.4h0M206.3 114.1h0M207.2 113.8h0M208.0 113.6h0M208.8 113.4h0M209.7 113.2h0M210.5 113.0h0M211.3 112.9h0M212.2 112.7h0M213.0 112.6h0M213.8 112.5h0M214.7 112.4h0M215.5 112.4h0M216.3 112.4h0M217.2 112.4h0M218.0 112.4h0M218.8 112.5h0M219.7 112.6h0M220.5 112.7h0M221.3 112.9h0M222.2 113.1h0M223.0 113.4h0M223.8 113.7h0M224.7 114.1h0M225.5 114.6h0M226.4 115.1h0M227.2 115.7h0M228.0 116.4h0M228.9 117.2h0M229.7 118.0h0M230.5 119.0h0M231.4 120.1h0M232.2 121.3h0M233.0 122.6h0M233.9 124.1h0M234.7 125.7h0M235.5 127.5h0M236.4 129.3h0M237.2 131.3h0M238.0 133.2h0M238.9 135.2h0M239.7 137.1h0M240.5 139.0h0M241.4 140.9h0M242.2 142.8h0M243.0 144.7h0M243.9 146.5h0M244.7 148.4h0M245.5 150.2h0M246.4 152.1h0M247.2 153.9h0M248.0 155.7h0M248.9 157.5h0M249.7 159.3h0M250.5 161.1h0M251.4 162.9h0M252.2 164.7h0M253.0 166.5h0M253.9 168.3h0M254.7 170.0h0M255.5 171.8h0M256.4 173.6h0M257.2 175.4h0M258.0 177.2h0M258.9 178.9h0M259.7 180.7h0M260.5 182.5h0M261.4 184.3h0M262.2 186.1h0M263.0 187.9h0M263.9 189.7h0M264.7 191.5h0M265.5 193.4h0M266.4 195.2h0M267.2 197.1h0M268.1 198.9h0M268.9 200.8h0M269.7 202.7h0M270.6 204.6h0M271.4 206.5h0M272.2 208.4h0M273.1 210.4h0M273.9 212.3h0M274.7 214.2h0M275.6 216.2h0M276.4 218.1h0M277.2 220.1h0M278.1 222.0h0M278.9 223.9h0M279.7 225.8h0M280.6 227.7h0M281.4 229.5h0M282.2 231.4h0M283.1 233.2h0M283.9 235.0h0M284.7 236.7h0M285.6 238.4h0M286.4 240.1h0M287.2 241.8h0M288.1 243.4h0M288.9 245.0h0M289.7 246.6h0M290.6 248.1h0M291.4 249.6h0M292.2 251.1h0M293.1 252.5h0M293.9 253.9h0M294.7 255.3h0M295.6 256.7h0M296.4 258.0h0M297.2 259.3h0M298.1 260.5h0M298.9 261.8h0M299.7 263.0h0M300.6 264.1h0M301.4 265.3h0M302.2 266.4h0M303.1 267.5h0M303.9 268.6h0M304.7 269.6h0M305.6 270.6h0M306.4 271.6h0M307.2 272.6h0M308.1 273.5h0M308.9 274.4h0M309.8 275.3h0M310.6 276.2h0M311.4 277.1h0M312.3 277.9h0M313.1 278.7h0M313.9 279.5h0M314.8 280.2h0M315.6 280.9h0M316.4 281.7h0M317.3 282.3h0M318.1 283.0h0M318.9 283.7h0M319.8 284.3h0M320.6 284.9h0M321.4 285.5h0M322.3 286.1h0M323.1 286.6h0M323.9 287.1h0M324.8 287.7h0M325.6 288.2h0M326.4 288.6h0M327.3 289.1h0M328.1 289.5h0M328.9 290.0h0M329.8 290.4h0M330.6 290.8h0M331.4 291.1h0M332.3 291.5h0M333.1 291.8h0M333.9 292.2h0M334.8 292.5h0M335.6 292.8h0M336.4 293.0h0M337.3 293.3h0M338.1 293.6h0M338.9 293.8h0M339.8 294.1h0M340.6 294.3h0M341.4 294.5h0M342.3 294.7h0M343.1 294.9h0M343.9 295.1h0M344.8 295.3h0M345.6 295.4h0M346.4 295.6h0M347.3 295.8h0M348.1 295.9h0M348.9 296.1h0M349.8 296.2h0M350.6 296.3h0M351.4 296.5h0M352.3 296.6h0M353.1 296.7h0M354.0 296.8h0M354.8 297.0h0M355.6 297.1h0M356.5 297.2h0M357.3 297.3h0M358.1 297.4h0M359.0 297.5h0M359.8 297.6h0M360.6 297.7h0M361.5 297.8h0M362.3 297.9h0M363.1 298.0h0M364.0 298.0h0M364.8 298.1h0M365.6 298.2h0M366.5 298.3h0M367.3 298.4h0M368.1 298.5h0M369.0 298.6h0M369.8 298.7h0M370.6 298.8h0M371.5 298.9h0M372.3 299.0h0M373.1 299.1h0M374.0 299.2h0M374.8 299.3h0M375.6 299.4h0M376.5 299.6h0M377.3 299.7h0M378.1 299.8h0M379.0 300.0h0M379.8 300.1h0M380.6 300.2h0M381.5 300.5H539.1"/><path stroke="#BA0F2E" d="M38.7 300.5H39.5M40.4 300.2h0M41.2 300.1h0M42.0 299.9h0M42.9 299.8h0M43.7 299.7h0M44.5 299.6h0M45.4 299.4h0M46.2 299.3h0M47.0 299.2h0M47.9 299.1h0M48.7 299.0h0M49.5 298.9h0M50.4 298.7h0M51.2 298.6h0M52.0 298.5h0M52.9 298.4h0M53.7 298.3h0M54.5 298.2h0M55.4 298.1h0M56.2 297.9h0M57.0 297.8h0M57.9 297.7h0M58.7 297.6h0M59.5 297.5h0M60.4 297.3h0M61.2 297.2h0M62.1 297.1h0M62.9 296.9h0M63.7 296.8h0M64.6 296.7h0M65.4 296.5h0M66.2 296.4h0M67.1 296.2h0M67.9 296.1h0M68.7 295.9h0M69.6 295.7h0M70.4 295.5h0M71.2 295.4h0M72.1 295.2h0M72.9 295.0h0M73.7 294.8h0M74.6 294.6h0M75.4 294.3h0M76.2 294.1h0M77.1 293.9h0M77.9 293.6h0M78.7 293.4h0M79.6 293.1h0M80.4 292.9h0M81.2 292.6h0M82.1 292.3h0M82.9 292.0h0M83.7 291.6h0M84.6 291.3h0M85.4 291.0h0M86.2 290.6h0M87.1 290.2h0M87.9 289.8h0M88.7 289.4h0M89.6 289.0h0M90.4 288.5h0M91.2 288.0h0M92.1 287.6h0M92.9 287.0h0M93.7 286.5h0M94.6 285.9h0M95.4 285.3h0M96.2 284.7h0M97.1 284.1h0M97.9 283.4h0M98.7 282.7h0M99.6 282.0h0M100.4 281.2h0M101.2 280.5h0M102.1 279.7h0M102.9 278.9h0M103.8 278.0h0M104.6 277.1h0M105.4 276.3h0M106.3 275.3h0M107.1 274.4h0M107.9 273.5h0M108.8 272.5h0M109.6 271.5h0M110.4 270.5h0M111.3 269.5h0M112.1 268.4h0M112.9 267.4h0M113.8 266.3h0M114.6 265.2h0M115.4 264.2h0M116.3 263.1h0M117.1 262.0h0M117.9 260.8h0M118.8 259.7h0M119.6 258.6h0M120.4 257.4h0M121.3 256.2h0M122.1 255.0h0M122.9 253.8h0M123.8 252.6h0M124.6 251.3h0M125.4 250.0h0M126.3 248.7h0M127.1 247.4h0M127.9 246.0h0M128.8 244.6h0M129.6 243.2h0M130.4 241.7h0M131.3 240.2h0M132.1 238.6h0M132.9 237.0h0M133.8 235.3h0M134.6 233.5h0M135.4 231.7h0M136.3 229.8h0M137.1 227.8h0M137.9 225.8h0M138.8 223.7h0M139.6 221.6h0M140.4 219.4h0M141.3 217.2h0M142.1 215.0h0M142.9 212.7h0M143.8 210.4h0M144.6 208.1h0M145.5 205.9h0M146.3 203.6h0M147.1 201.4h0M148.0 199.2h0M148.8 197.1h0M149.6 195.1h0M150.5 193.1h0M151.3 191.1h0M152.1 189.2h0M153.0 187.3h0M153.8 185.5h0M154.6 183.6h0M155.5 181.8h0M156.3 180.1h0M157.1 178.3h0M158.0 176.6h0M158.8 174.9h0M159.6 173.2h0M160.5 171.6h0M161.3 169.9h0M162.1 168.3h0M163.0 166.6h0M163.8 165.0h0M164.6 163.4h0M165.5 161.8h0M166.3 160.3h0M167.1 158.7h0M168.0 157.1h0M168.8 155.5h0M169.6 154.0h0M170.5 152.4h0M171.3 150.9h0M172.1 149.3h0M173.0 147.8h0M173.8 146.2h0M174.6 144.7h0M175.5 143.1h0M176.3 141.6h0M177.1 140.0h0M178.0 138.5h0M178.8 137.0h0M179.6 135.5h0M180.5 134.1h0M181.3 132.7h0M182.1 131.4h0M183.0 130.2h0M183.8 129.0h0M184.6 127.8h0M185.5 126.7h0M186.3 125.7h0M187.2 124.8h0M188.0 123.9h0M188.8 123.0h0M189.7 122.3h0M190.5 121.5h0M191.3 120.8h0M192.2 120.2h0M193.0 119.6h0M193.8 119.0h0M194.7 118.5h0M195.5 118.0h0M196.3 117.5h0M197.2 117.1h0M198.0 116.6h0M198.8 116.2h0M199.7 115.9h0M200.5 115.5h0M201.3 115.1h0M202.2 114.8h0M203.0 114.5h0M203.8 114.2h0M204.7 113.9h0M205.5 113.6h0M206.3 113.3h0M207.2 113.0h0M208.0 112.8h0M208.8 112.5h0M209.7 112.3h0M210.5 112.1h0M211.3 111.9h0M212.2 111.7h0M213.0 111.5h0M213.8 111.4h0M214.7 111.2h0M215.5 111.2h0M216.3 111.1h0M217.2 111.1h0M218.0 111.1h0M218.8 111.2h0M219.7 111.4h0M220.5 111.6h0M221.3 111.9h0M222.2 112.3h0M223.0 112.8h0M223.8 113.5h0M224.7 114.3h0M225.5 115.2h0M226.4 116.2h0M227.2 117.4h0M228.0 118.6h0M228.9 119.9h0M229.7 121.3h0M230.5 122.8h0M231.4 124.5h0M232.2 126.2h0M233.0 128.0h0M233.9 129.9h0M234.7 131.9h0M235.5 133.9h0M236.4 136.0h0M237.2 138.0h0M238.0 140.0h0M238.9 142.0h0M239.7 144.0h0M240.5 145.9h0M241.4 147.8h0M242.2 149.8h0M243.0 151.7h0M243.9 153.5h0M244.7 155.4h0M245.5 157.3h0M246.4 159.1h0M247.2 161.0h0M248.0 162.8h0M248.9 164.6h0M249.7 166.4h0M250.5 168.2h0M251.4 170.0h0M252.2 171.8h0M253.0 173.5h0M253.9 175.3h0M254.7 177.0h0M255.5 178.8h0M256.4 180.5h0M257.2 182.3h0M258.0 184.0h0M258.9 185.7h0M259.7 187.5h0M260.5 189.2h0M261.4 190.9h0M262.2 192.6h0M263.0 194.3h0M263.9 196.0h0M264.7 197.7h0M265.5 199.5h0M266.4 201.2h0M267.2 202.9h0M268.1 204.6h0M268.9 206.3h0M269.7 208.0h0M270.6 209.7h0M271.4 211.4h0M272.2 213.1h0M273.1 214.8h0M273.9 216.5h0M274.7 218.3h0M275.6 220.0h0M276.4 221.7h0M277.2 223.4h0M278.1 225.2h0M278.9 226.9h0M279.7 228.7h0M280.6 230.4h0M281.4 232.2h0M282.2 233.9h0M283.1 235.7h0M283.9 237.4h0M284.7 239.2h0M285.6 240.9h0M286.4 242.6h0M287.2 244.2h0M288.1 245.9h0M288.9 247.5h0M289.7 249.1h0M290.6 250.6h0M291.4 252.1h0M292.2 253.6h0M293.1 255.1h0M293.9 256.5h0M294.7 257.8h0M295.6 259.1h0M296.4 260.4h0M297.2 261.7h0M298.1 262.9h0M298.9 264.1h0M299.7 265.2h0M300.6 266.3h0M301.4 267.4h0M302.2 268.5h0M303.1 269.5h0M303.9 270.5h0M304.7 271.4h0M305.6 272.3h0M306.4 273.3h0M307.2 274.1h0M308.1 275.0h0M308.9 275.8h0M309.8 276.6h0M310.6 277.4h0M311.4 278.2h0M312.3 279.0h0M313.1 279.7h0M313.9 280.4h0M314.8 281.1h0M315.6 281.8h0M316.4 282.4h0M317.3 283.1h0M318.1 283.7h0M318.9 284.3h0M319.8 284.9h0M320.6 285.5h0M321.4 286.0h0M322.3 286.6h0M323.1 287.1h0M323.9 287.6h0M324.8 288.1h0M325.6 288.6h0M326.4 289.1h0M327.3 289.5h0M328.1 289.9h0M328.9 290.4h0M329.8 290.8h0M330.6 291.2h0M331.4 291.5h0M332.3 291.9h0M333.1 292.3h0M333.9 292.6h0M334.8 292.9h0M335.6 293.3h0M336.4 293.6h0M337.3 293.8h0M338.1 294.1h0M338.9 294.4h0M339.8 294.6h0M340.6 294.9h0M341.4 295.1h0M342.3 295.3h0M343.1 295.5h0M343.9 295.7h0M344.8 295.9h0M345.6 296.0h0M346.4 296.2h0M347.3 296.3h0M348.1 296.5h0M348.9 296.6h0M349.8 296.7h0M350.6 296.8h0M351.4 296.9h0M352.3 297.0h0M353.1 297.1h0M354.0 297.2h0M354.8 297.3h0M355.6 297.4h0M356.5 297.5h0M357.3 297.6h0M358.1 297.7h0M359.0 297.7h0M359.8 297.8h0M360.6 297.9h0M361.5 298.0h0M362.3 298.0h0M363.1 298.1h0M364.0 298.2h0M364.8 298.3h0M365.6 298.3h0M366.5 298.4h0M367.3 298.5h0M368.1 298.6h0M369.0 298.7h0M369.8 298.8h0M370.6 298.9h0M371.5 299.0h0M372.3 299.1h0M373.1 299.2h0M374.0 299.3h0M374.8 299.5h0M375.6 299.6h0M376.5 299.8h0M377.3 299.9h0M378.1 300.1h0M379.0 300.3h0M379.8 300.5H539.1"/><path stroke="#FA500C" d="M38.7 300.5H38.7M39.5 300.3h0M40.4 300.2h0M41.2 300.0h0M42.0 299.9h0M42.9 299.7h0M43.7 299.6h0M44.5 299.5h0M45.4 299.3h0M46.2 299.2h0M47.0 299.1h0M47.9 298.9h0M48.7 298.8h0M49.5 298.7h0M50.4 298.6h0M51.2 298.4h0M52.0 298.3h0M52.9 298.2h0M53.7 298.1h0M54.5 297.9h0M55.4 297.8h0M56.2 297.7h0M57.0 297.6h0M57.9 297.4h0M58.7 297.3h0M59.5 297.2h0M60.4 297.0h0M61.2 296.9h0M62.1 296.7h0M62.9 296.6h0M63.7 296.4h0M64.6 296.3h0M65.4 296.1h0M66.2 296.0h0M67.1 295.8h0M67.9 295.6h0M68.7 295.4h0M69.6 295.3h0M70.4 295.1h0M71.2 294.9h0M72.1 294.7h0M72.9 294.5h0M73.7 294.3h0M74.6 294.0h0M75.4 293.8h0M76.2 293.6h0M77.1 293.3h0M77.9 293.1h0M78.7 292.8h0M79.6 292.5h0M80.4 292.2h0M81.2 291.9h0M82.1 291.6h0M82.9 291.3h0M83.7 291.0h0M84.6 290.6h0M85.4 290.3h0M86.2 289.9h0M87.1 289.5h0M87.9 289.1h0M88.7 288.7h0M89.6 288.2h0M90.4 287.7h0M91.2 287.3h0M92.1 286.7h0M92.9 286.2h0M93.7 285.6h0M94.6 285.1h0M95.4 284.5h0M96.2 283.8h0M97.1 283.2h0M97.9 282.5h0M98.7 281.8h0M99.6 281.0h0M100.4 280.3h0M101.2 279.5h0M102.1 278.7h0M102.9 277.8h0M103.8 277.0h0M104.6 276.1h0M105.4 275.2h0M106.3 274.2h0M107.1 273.3h0M107.9 272.3h0M108.8 271.3h0M109.6 270.3h0M110.4 269.3h0M111.3 268.3h0M112.1 267.2h0M112.9 266.2h0M113.8 265.1h0M114.6 264.0h0M115.4 262.9h0M116.3 261.8h0M117.1 260.7h0M117.9 259.6h0M118.8 258.5h0M119.6 257.4h0M120.4 256.2h0M121.3 255.0h0M122.1 253.9h0M122.9 252.6h0M123.8 251.4h0M124.6 250.2h0M125.4 248.9h0M126.3 247.6h0M127.1 246.3h0M127.9 244.9h0M128.8 243.5h0M129.6 242.1h0M130.4 240.6h0M131.3 239.1h0M132.1 237.5h0M132.9 235.9h0M133.8 234.2h0M134.6 232.4h0M135.4 230.5h0M136.3 228.6h0M137.1 226.6h0M137.9 224.5h0M138.8 222.4h0M139.6 220.1h0M140.4 217.8h0M141.3 215.5h0M142.1 213.2h0M142.9 210.8h0M143.8 208.4h0M144.6 206.0h0M145.5 203.7h0M146.3 201.4h0M147.1 199.2h0M148.0 197.0h0M148.8 194.8h0M149.6 192.8h0M150.5 190.8h0M151.3 188.8h0M152.1 186.9h0M153.0 185.0h0M153.8 183.2h0M154.6 181.4h0M155.5 179.6h0M156.3 177.9h0M157.1 176.2h0M158.0 174.5h0M158.8 172.8h0M159.6 171.1h0M160.5 169.5h0M161.3 167.9h0M162.1 166.2h0M163.0 164.6h0M163.8 163.0h0M164.6 161.5h0M165.5 159.9h0M166.3 158.3h0M167.1 156.8h0M168.0 155.2h0M168.8 153.6h0M169.6 152.1h0M170.5 150.5h0M171.3 149.0h0M172.1 147.4h0M173.0 145.9h0M173.8 144.3h0M174.6 142.8h0M175.5 141.2h0M176.3 139.6h0M177.1 138.1h0M178.0 136.6h0M178.8 135.1h0M179.6 133.6h0M180.5 132.3h0M181.3 130.9h0M182.1 129.7h0M183.0 128.5h0M183.8 127.3h0M184.6 126.3h0M185.5 125.3h0M186.3 124.3h0M187.2 123.4h0M188.0 122.6h0M188.8 121.8h0M189.7 121.1h0M190.5 120.4h0M191.3 119.8h0M192.2 119.2h0M193.0 118.6h0M193.8 118.1h0M194.7 117.6h0M195.5 117.1h0M196.3 116.7h0M197.2 116.3h0M198.0 115.9h0M198.8 115.5h0M199.7 115.1h0M200.5 114.8h0M201.3 114.4h0M202.2 114.1h0M203.0 113.8h0M203.8 113.5h0M204.7 113.2h0M205.5 113.0h0M206.3 112.7h0M207.2 112.5h0M208.0 112.2h0M208.8 112.0h0M209.7 111.8h0M210.5 111.6h0M211.3 111.4h0M212.2 111.2h0M213.0 111.1h0M213.8 111.0h0M214.7 110.9h0M215.5 110.8h0M216.3 110.8h0M217.2 110.8h0M218.0 110.8h0M218.8 110.9h0M219.7 111.1h0M220.5 111.3h0M221.3 111.6h0M222.2 112.0h0M223.0 112.6h0M223.8 113.2h0M224.7 114.0h0M225.5 114.9h0M226.4 115.9h0M227.2 117.0h0M228.0 118.2h0M228.9 119.6h0M229.7 121.0h0M230.5 122.6h0M231.4 124.2h0M232.2 126.1h0M233.0 128.0h0M233.9 130.0h0M234.7 132.1h0M235.5 134.3h0M236.4 136.5h0M237.2 138.6h0M238.0 140.7h0M238.9 142.8h0M239.7 144.8h0M240.5 146.9h0M241.4 148.9h0M242.2 150.9h0M243.0 152.9h0M243.9 154.9h0M244.7 156.8h0M245.5 158.8h0M246.4 160.7h0M247.2 162.6h0M248.0 164.5h0M248.9 166.4h0M249.7 168.3h0M250.5 170.1h0M251.4 172.0h0M252.2 173.8h0M253.0 175.7h0M253.9 177.5h0M254.7 179.3h0M255.5 181.1h0M256.4 182.9h0M257.2 184.7h0M258.0 186.5h0M258.9 188.2h0M259.7 190.0h0M260.5 191.8h0M261.4 193.5h0M262.2 195.3h0M263.0 197.0h0M263.9 198.8h0M264.7 200.5h0M265.5 202.2h0M266.4 204.0h0M267.2 205.7h0M268.1 207.4h0M268.9 209.1h0M269.7 210.8h0M270.6 212.6h0M271.4 214.3h0M272.2 216.0h0M273.1 217.7h0M273.9 219.4h0M274.7 221.1h0M275.6 222.8h0M276.4 224.5h0M277.2 226.3h0M278.1 228.0h0M278.9 229.7h0M279.7 231.4h0M280.6 233.1h0M281.4 234.8h0M282.2 236.5h0M283.1 238.2h0M283.9 239.9h0M284.7 241.5h0M285.6 243.1h0M286.4 244.7h0M287.2 246.3h0M288.1 247.8h0M288.9 249.4h0M289.7 250.9h0M290.6 252.3h0M291.4 253.7h0M292.2 255.1h0M293.1 256.5h0M293.9 257.8h0M294.7 259.1h0M295.6 260.3h0M296.4 261.6h0M297.2 262.7h0M298.1 263.9h0M298.9 265.0h0M299.7 266.1h0M300.6 267.2h0M301.4 268.2h0M302.2 269.2h0M303.1 270.2h0M303.9 271.2h0M304.7 272.1h0M305.6 273.0h0M306.4 273.9h0M307.2 274.8h0M308.1 275.6h0M308.9 276.4h0M309.8 277.2h0M310.6 278.0h0M311.4 278.8h0M312.3 279.5h0M313.1 280.2h0M313.9 280.9h0M314.8 281.6h0M315.6 282.3h0M316.4 282.9h0M317.3 283.6h0M318.1 284.2h0M318.9 284.8h0M319.8 285.4h0M320.6 285.9h0M321.4 286.5h0M322.3 287.0h0M323.1 287.6h0M323.9 288.1h0M324.8 288.5h0M325.6 289.0h0M326.4 289.5h0M327.3 289.9h0M328.1 290.4h0M328.9 290.8h0M329.8 291.2h0M330.6 291.6h0M331.4 291.9h0M332.3 292.3h0M333.1 292.6h0M333.9 293.0h0M334.8 293.3h0M335.6 293.6h0M336.4 293.9h0M337.3 294.2h0M338.1 294.4h0M338.9 294.7h0M339.8 294.9h0M340.6 295.1h0M341.4 295.4h0M342.3 295.6h0M343.1 295.7h0M343.9 295.9h0M344.8 296.1h0M345.6 296.3h0M346.4 296.4h0M347.3 296.5h0M348.1 296.7h0M348.9 296.8h0M349.8 296.9h0M350.6 297.0h0M351.4 297.2h0M352.3 297.3h0M353.1 297.4h0M354.0 297.4h0M354.8 297.5h0M355.6 297.6h0M356.5 297.7h0M357.3 297.8h0M358.1 297.9h0M359.0 298.0h0M359.8 298.0h0M360.6 298.1h0M361.5 298.2h0M362.3 298.3h0M363.1 298.4h0M364.0 298.4h0M364.8 298.5h0M365.6 298.6h0M366.5 298.7h0M367.3 298.8h0M368.1 298.9h0M369.0 299.0h0M369.8 299.1h0M370.6 299.2h0M371.5 299.3h0M372.3 299.4h0M373.1 299.6h0M374.0 299.7h0M374.8 299.9h0M375.6 300.0h0M376.5 300.2h0M377.3 300.3h0M378.1 300.5H539.1"/><path stroke="#5EB21E" d="M38.7 300.5H38.7M39.5 300.3h0M40.4 300.2h0M41.2 300.0h0M42.0 299.8h0M42.9 299.7h0M43.7 299.5h0M44.5 299.4h0M45.4 299.2h0M46.2 299.1h0M47.0 298.9h0M47.9 298.8h0M48.7 298.6h0M49.5 298.5h0M50.4 298.3h0M51.2 298.2h0M52.0 298.1h0M52.9 297.9h0M53.7 297.8h0M54.5 297.6h0M55.4 297.5h0M56.2 297.4h0M57.0 297.2h0M57.9 297.1h0M58.7 296.9h0M59.5 296.8h0M60.4 296.6h0M61.2 296.5h0M62.1 296.3h0M62.9 296.1h0M63.7 296.0h0M64.6 295.8h0M65.4 295.6h0M66.2 295.5h0M67.1 295.3h0M67.9 295.1h0M68.7 294.9h0M69.6 294.7h0M70.4 294.5h0M71.2 294.3h0M72.1 294.1h0M72.9 293.9h0M73.7 293.6h0M74.6 293.4h0M75.4 293.1h0M76.2 292.9h0M77.1 292.6h0M77.9 292.4h0M78.7 292.1h0M79.6 291.8h0M80.4 291.5h0M81.2 291.2h0M82.1 290.9h0M82.9 290.5h0M83.7 290.2h0M84.6 289.8h0M85.4 289.4h0M86.2 289.0h0M87.1 288.6h0M87.9 288.2h0M88.7 287.8h0M89.6 287.3h0M90.4 286.8h0M91.2 286.3h0M92.1 285.8h0M92.9 285.2h0M93.7 284.6h0M94.6 284.0h0M95.4 283.4h0M96.2 282.7h0M97.1 282.0h0M97.9 281.3h0M98.7 280.6h0M99.6 279.8h0M100.4 279.1h0M101.2 278.3h0M102.1 277.4h0M102.9 276.6h0M103.8 275.7h0M104.6 274.8h0M105.4 273.8h0M106.3 272.9h0M107.1 271.9h0M107.9 270.9h0M108.8 269.9h0M109.6 268.9h0M110.4 267.9h0M111.3 266.8h0M112.1 265.8h0M112.9 264.7h0M113.8 263.7h0M114.6 262.6h0M115.4 261.5h0M116.3 260.4h0M117.1 259.3h0M117.9 258.2h0M118.8 257.1h0M119.6 256.0h0M120.4 254.8h0M121.3 253.7h0M122.1 252.5h0M122.9 251.3h0M123.8 250.1h0M124.6 248.9h0M125.4 247.7h0M126.3 246.4h0M127.1 245.1h0M127.9 243.8h0M128.8 242.4h0M129.6 241.0h0M130.4 239.6h0M131.3 238.1h0M132.1 236.5h0M132.9 234.9h0M133.8 233.3h0M134.6 231.5h0M135.4 229.7h0M136.3 227.8h0M137.1 225.8h0M137.9 223.7h0M138.8 221.6h0M139.6 219.3h0M140.4 217.1h0M141.3 214.7h0M142.1 212.4h0M142.9 210.0h0M143.8 207.6h0M144.6 205.2h0M145.5 202.8h0M146.3 200.5h0M147.1 198.2h0M148.0 196.0h0M148.8 193.8h0M149.6 191.7h0M150.5 189.7h0M151.3 187.7h0M152.1 185.8h0M153.0 183.9h0M153.8 182.0h0M154.6 180.2h0M155.5 178.4h0M156.3 176.6h0M157.1 174.9h0M158.0 173.1h0M158.8 171.4h0M159.6 169.8h0M160.5 168.1h0M161.3 166.4h0M162.1 164.8h0M163.0 163.2h0M163.8 161.5h0M164.6 159.9h0M165.5 158.3h0M166.3 156.7h0M167.1 155.1h0M168.0 153.5h0M168.8 151.9h0M169.6 150.3h0M170.5 148.8h0M171.3 147.2h0M172.1 145.6h0M173.0 144.0h0M173.8 142.4h0M174.6 140.8h0M175.5 139.2h0M176.3 137.6h0M177.1 136.0h0M178.0 134.5h0M178.8 133.0h0M179.6 131.6h0M180.5 130.3h0M181.3 129.0h0M182.1 127.8h0M183.0 126.6h0M183.8 125.5h0M184.6 124.5h0M185.5 123.6h0M186.3 122.7h0M187.2 121.8h0M188.0 121.0h0M188.8 120.3h0M189.7 119.6h0M190.5 119.0h0M191.3 118.4h0M192.2 117.9h0M193.0 117.4h0M193.8 116.9h0M194.7 116.4h0M195.5 116.0h0M196.3 115.6h0M197.2 115.2h0M198.0 114.8h0M198.8 114.5h0M199.7 114.1h0M200.5 113.8h0M201.3 113.5h0M202.2 113.2h0M203.0 112.9h0M203.8 112.6h0M204.7 112.4h0M205.5 112.1h0M206.3 111.9h0M207.2 111.6h0M208.0 111.4h0M208.8 111.1h0M209.7 110.9h0M210.5 110.7h0M211.3 110.5h0M212.2 110.3h0M213.0 110.1h0M213.8 110.0h0M214.7 109.8h0M215.5 109.7h0M216.3 109.7h0M217.2 109.6h0M218.0 109.6h0M218.8 109.7h0M219.7 109.8h0M220.5 110.0h0M221.3 110.3h0M222.2 110.6h0M223.0 111.1h0M223.8 111.6h0M224.7 112.3h0M225.5 113.2h0M226.4 114.2h0M227.2 115.4h0M228.0 116.8h0M228.9 118.5h0M229.7 120.4h0M230.5 122.5h0M231.4 124.6h0M232.2 126.7h0M233.0 128.5h0M233.9 130.3h0M234.7 132.0h0M235.5 133.7h0M236.4 135.3h0M237.2 137.0h0M238.0 138.8h0M238.9 140.5h0M239.7 142.3h0M240.5 144.1h0M241.4 146.0h0M242.2 147.8h0M243.0 149.7h0M243.9 151.6h0M244.7 153.6h0M245.5 155.5h0M246.4 157.5h0M247.2 159.5h0M248.0 161.6h0M248.9 163.6h0M249.7 165.7h0M250.5 167.7h0M251.4 169.8h0M252.2 171.9h0M253.0 174.0h0M253.9 176.1h0M254.7 178.3h0M255.5 180.4h0M256.4 182.5h0M257.2 184.6h0M258.0 186.7h0M258.9 188.9h0M259.7 191.0h0M260.5 193.1h0M261.4 195.1h0M262.2 197.2h0M263.0 199.3h0M263.9 201.3h0M264.7 203.3h0M265.5 205.3h0M266.4 207.3h0M267.2 209.3h0M268.1 211.2h0M268.9 213.1h0M269.7 215.0h0M270.6 216.9h0M271.4 218.7h0M272.2 220.6h0M273.1 222.3h0M273.9 224.1h0M274.7 225.8h0M275.6 227.6h0M276.4 229.2h0M277.2 230.9h0M278.1 232.5h0M278.9 234.1h0M279.7 235.7h0M280.6 237.2h0M281.4 238.8h0M282.2 240.3h0M283.1 241.7h0M283.9 243.2h0M284.7 244.6h0M285.6 246.0h0M286.4 247.4h0M287.2 248.7h0M288.1 250.0h0M288.9 251.3h0M289.7 252.6h0M290.6 253.9h0M291.4 255.1h0M292.2 256.3h0M293.1 257.5h0M293.9 258.7h0M294.7 259.8h0M295.6 261.0h0M296.4 262.1h0M297.2 263.2h0M298.1 264.3h0M298.9 265.3h0M299.7 266.4h0M300.6 267.4h0M301.4 268.4h0M302.2 269.4h0M303.1 270.3h0M303.9 271.3h0M304.7 272.2h0M305.6 273.1h0M306.4 274.0h0M307.2 274.9h0M308.1 275.8h0M308.9 276.6h0M309.8 277.4h0M310.6 278.2h0M311.4 279.0h0M312.3 279.8h0M313.1 280.5h0M313.9 281.3h0M314.8 282.0h0M315.6 282.7h0M316.4 283.3h0M317.3 284.0h0M318.1 284.6h0M318.9 285.3h0M319.8 285.9h0M320.6 286.5h0M321.4 287.0h0M322.3 287.6h0M323.1 288.1h0M323.9 288.6h0M324.8 289.1h0M325.6 289.6h0M326.4 290.1h0M327.3 290.5h0M328.1 291.0h0M328.9 291.4h0M329.8 291.8h0M330.6 292.2h0M331.4 292.5h0M332.3 292.9h0M333.1 293.2h0M333.9 293.6h0M334.8 293.9h0M335.6 294.2h0M336.4 294.4h0M337.3 294.7h0M338.1 294.9h0M338.9 295.2h0M339.8 295.4h0M340.6 295.6h0M341.4 295.8h0M342.3 296.0h0M343.1 296.1h0M343.9 296.3h0M344.8 296.4h0M345.6 296.6h0M346.4 296.7h0M347.3 296.8h0M348.1 296.9h0M348.9 297.0h0M349.8 297.2h0M350.6 297.3h0M351.4 297.3h0M352.3 297.4h0M353.1 297.5h0M354.0 297.6h0M354.8 297.7h0M355.6 297.8h0M356.5 297.9h0M357.3 297.9h0M358.1 298.0h0M359.0 298.1h0M359.8 298.2h0M360.6 298.2h0M361.5 298.3h0M362.3 298.4h0M363.1 298.5h0M364.0 298.6h0M364.8 298.7h0M365.6 298.8h0M366.5 298.9h0M367.3 299.0h0M368.1 299.1h0M369.0 299.3h0M369.8 299.4h0M370.6 299.5h0M371.5 299.7h0M372.3 299.9h0M373.1 300.1h0M374.0 300.2h0M374.8 300.5H539.1"/></g><text class="t" x="34.6" y="303.5" text-anchor="end">0</text><text class="t" x="34.6" y="274.4" text-anchor="end">0.2</text><text class="t" x="34.6" y="245.3" text-anchor="end">0.4</text><text class="t" x="34.6" y="216.2" text-anchor="end">0.6</text><text class="t" x="34.6" y="187.1" text-anchor="end">0.8</text><text class="t" x="34.6" y="158.0" text-anchor="end">1</text><text class="t" x="34.6" y="128.9" text-anchor="end">1.2</text><text class="t" x="34.6" y="99.8" text-anchor="end">1.4</text><text class="t" x="34.6" y="70.7" text-anchor="end">1.6</text><text class="t" x="34.6" y="41.6" text-anchor="end">1.8</text><text class="t" x="34.6" y="12.5" text-anchor="end">2</text><text class="t" x="40.1" y="313.8" text-anchor="middle"><tspan class="m">−</tspan>1</text><text class="t" x="122.4" y="313.8" text-anchor="middle"><tspan class="m">−</tspan>0.5</text><text class="t" x="205.8" y="313.8" text-anchor="middle">0</text><text class="t" x="289.2" y="313.8" text-anchor="middle">0.5</text><text class="t" x="372.6" y="313.8" text-anchor="middle">1</text><text class="t" x="456.0" y="313.8" text-anchor="middle">1.5</text><text class="t" x="539.4" y="313.8" text-anchor="middle">2</text><text class="s" x="211.5" y="333" style="font-size:12.65px">GNSS Ground Velocity(m/s)</text><text class="s" transform="translate(12.6 154.8) rotate(-90)" text-anchor="middle" style="font-size:11.9px">PDF</text><text class="r" x="94.6" y="78">Gaussian Distribution</text><text class="r" x="372" y="76.6">Rayleigh Distribution</text><path d="M143.4 80.8L174.8 143.3" stroke="#ff0d0d" stroke-width="1.15"/><path d="M178.9 151.5L170.2 143.8L174.8 143.3L177.9 139.9Z" fill="#ff0d0d"/><path d="M367.6 79.2L309.6 118.6" stroke="#ff0d0d" stroke-width="1.15"/><path d="M302.0 123.8L308.5 114.2L309.6 118.6L313.3 121.3Z" fill="#ff0d0d"/></svg></body></html>
